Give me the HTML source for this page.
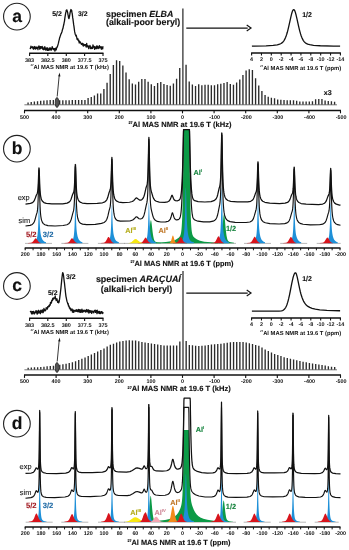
<!DOCTYPE html>
<html><head><meta charset="utf-8"><style>
html,body{margin:0;padding:0;background:#fff;}
svg{display:block;}
text{font-family:"Liberation Sans",Arial,sans-serif;text-rendering:geometricPrecision;}
</style></head><body>
<svg width="349" height="550" viewBox="0 0 349 550">
<rect width="349" height="550" fill="#fff"/>
<circle cx="16.9" cy="16.6" r="13.35" fill="none" stroke="#222" stroke-width="1.1"/>
<text x="17.2" y="21.5" font-size="17.5" font-weight="bold" text-anchor="middle" fill="#111" stroke="#111" stroke-width="0.12" style="" >a</text>
<text x="106" y="16.6" font-size="8.85" font-weight="bold" fill="#111" stroke="#111" stroke-width="0.12">specimen <tspan font-style="italic">ELBA</tspan></text>
<text x="106" y="24.8" font-size="8.85" font-weight="bold" fill="#111" stroke="#111" stroke-width="0.12">(alkali-poor beryl)</text>
<line x1="29.1" y1="53.3" x2="103.5" y2="53.3" stroke="#111" stroke-width="1.5"/>
<line x1="29.6" y1="53.3" x2="29.6" y2="55.9" stroke="#111" stroke-width="1.1"/>
<line x1="47.8" y1="53.3" x2="47.8" y2="55.9" stroke="#111" stroke-width="1.1"/>
<line x1="66.3" y1="53.3" x2="66.3" y2="55.9" stroke="#111" stroke-width="1.1"/>
<line x1="84.6" y1="53.3" x2="84.6" y2="55.9" stroke="#111" stroke-width="1.1"/>
<line x1="103" y1="53.3" x2="103" y2="55.9" stroke="#111" stroke-width="1.1"/>
<text x="29.6" y="62.2" font-size="5.5" font-weight="bold" text-anchor="middle" fill="#111" style="" >383</text>
<text x="47.8" y="62.2" font-size="5.5" font-weight="bold" text-anchor="middle" fill="#111" style="" >382.5</text>
<text x="66.3" y="62.2" font-size="5.5" font-weight="bold" text-anchor="middle" fill="#111" style="" >380</text>
<text x="84.6" y="62.2" font-size="5.5" font-weight="bold" text-anchor="middle" fill="#111" style="" >377.5</text>
<text x="103" y="62.2" font-size="5.5" font-weight="bold" text-anchor="middle" fill="#111" style="" >375</text>
<text x="30.4" y="68.6" font-size="5.77" font-weight="bold" text-anchor="start" fill="#111"><tspan font-size="2.88" dy="-2.6">27</tspan><tspan dy="2.6">Al MAS NMR at 19.6 T (kHz)</tspan></text>
<line x1="251.1" y1="52.9" x2="340.9" y2="52.9" stroke="#111" stroke-width="1.5"/>
<line x1="251.6" y1="52.9" x2="251.6" y2="55.5" stroke="#111" stroke-width="1.1"/>
<line x1="261.47" y1="52.9" x2="261.47" y2="55.5" stroke="#111" stroke-width="1.1"/>
<line x1="271.33" y1="52.9" x2="271.33" y2="55.5" stroke="#111" stroke-width="1.1"/>
<line x1="281.2" y1="52.9" x2="281.2" y2="55.5" stroke="#111" stroke-width="1.1"/>
<line x1="291.07" y1="52.9" x2="291.07" y2="55.5" stroke="#111" stroke-width="1.1"/>
<line x1="300.93" y1="52.9" x2="300.93" y2="55.5" stroke="#111" stroke-width="1.1"/>
<line x1="310.8" y1="52.9" x2="310.8" y2="55.5" stroke="#111" stroke-width="1.1"/>
<line x1="320.67" y1="52.9" x2="320.67" y2="55.5" stroke="#111" stroke-width="1.1"/>
<line x1="330.53" y1="52.9" x2="330.53" y2="55.5" stroke="#111" stroke-width="1.1"/>
<line x1="340.4" y1="52.9" x2="340.4" y2="55.5" stroke="#111" stroke-width="1.1"/>
<text x="251.6" y="61.2" font-size="5.4" font-weight="bold" text-anchor="middle" fill="#111" style="" >4</text>
<text x="261.47" y="61.2" font-size="5.4" font-weight="bold" text-anchor="middle" fill="#111" style="" >2</text>
<text x="271.33" y="61.2" font-size="5.4" font-weight="bold" text-anchor="middle" fill="#111" style="" >0</text>
<text x="281.2" y="61.2" font-size="5.4" font-weight="bold" text-anchor="middle" fill="#111" style="" >-2</text>
<text x="291.07" y="61.2" font-size="5.4" font-weight="bold" text-anchor="middle" fill="#111" style="" >-4</text>
<text x="300.93" y="61.2" font-size="5.4" font-weight="bold" text-anchor="middle" fill="#111" style="" >-6</text>
<text x="310.8" y="61.2" font-size="5.4" font-weight="bold" text-anchor="middle" fill="#111" style="" >-8</text>
<text x="320.67" y="61.2" font-size="5.4" font-weight="bold" text-anchor="middle" fill="#111" style="" >-10</text>
<text x="330.53" y="61.2" font-size="5.4" font-weight="bold" text-anchor="middle" fill="#111" style="" >-12</text>
<text x="340.4" y="61.2" font-size="5.4" font-weight="bold" text-anchor="middle" fill="#111" style="" >-14</text>
<text x="259.9" y="69.5" font-size="5.83" font-weight="bold" text-anchor="start" fill="#111"><tspan font-size="2.92" dy="-2.6">27</tspan><tspan dy="2.6">Al MAS NMR at 19.6 T (ppm)</tspan></text>
<path d="M251.9,46.14 L266.06,45.81 L273.14,45.37 L277.27,44.81 L279.63,44.19 L281.1,43.51 L282.28,42.65 L283.17,41.74 L284.05,40.52 L284.94,38.92 L285.53,37.6 L286.12,36.06 L286.71,34.3 L287.3,32.3 L287.89,30.09 L288.77,26.4 L290.84,17.04 L291.43,14.59 L291.72,13.48 L292.02,12.48 L292.31,11.6 L292.61,10.86 L292.9,10.28 L293.2,9.87 L293.49,9.65 L293.79,9.61 L294.08,9.76 L294.38,10.09 L294.67,10.61 L294.97,11.28 L295.26,12.11 L295.56,13.06 L296.15,15.29 L297.03,19.14 L298.51,25.87 L299.39,29.61 L299.98,31.87 L300.57,33.91 L301.16,35.73 L301.75,37.31 L302.34,38.67 L303.23,40.33 L304.11,41.6 L305,42.54 L306.18,43.43 L307.65,44.15 L309.72,44.73 L313.55,45.3 L320.34,45.77 L333.61,46.11 L340.1,46.19" fill="none" stroke="#111" stroke-width="1.3" stroke-linejoin="round"/>
<text x="302.2" y="16.6" font-size="7" font-weight="bold" text-anchor="start" fill="#111" stroke="#111" stroke-width="0.12" style="" >1/2</text>
<line x1="186.3" y1="28.1" x2="247.7" y2="28.1" stroke="#111" stroke-width="1.2"/>
<polyline points="246.7,31.1 251,28.1 246.7,25.1" fill="none" stroke="#111" stroke-width="1.2" stroke-linejoin="miter"/>
<line x1="24" y1="110.5" x2="341" y2="110.5" stroke="#111" stroke-width="1.5"/>
<line x1="24.5" y1="110.5" x2="24.5" y2="113.3" stroke="#111" stroke-width="1.1"/>
<line x1="56.1" y1="110.5" x2="56.1" y2="113.3" stroke="#111" stroke-width="1.1"/>
<line x1="87.7" y1="110.5" x2="87.7" y2="113.3" stroke="#111" stroke-width="1.1"/>
<line x1="119.3" y1="110.5" x2="119.3" y2="113.3" stroke="#111" stroke-width="1.1"/>
<line x1="150.9" y1="110.5" x2="150.9" y2="113.3" stroke="#111" stroke-width="1.1"/>
<line x1="182.5" y1="110.5" x2="182.5" y2="113.3" stroke="#111" stroke-width="1.1"/>
<line x1="214.1" y1="110.5" x2="214.1" y2="113.3" stroke="#111" stroke-width="1.1"/>
<line x1="245.7" y1="110.5" x2="245.7" y2="113.3" stroke="#111" stroke-width="1.1"/>
<line x1="277.3" y1="110.5" x2="277.3" y2="113.3" stroke="#111" stroke-width="1.1"/>
<line x1="308.9" y1="110.5" x2="308.9" y2="113.3" stroke="#111" stroke-width="1.1"/>
<line x1="340.5" y1="110.5" x2="340.5" y2="113.3" stroke="#111" stroke-width="1.1"/>
<text x="24.5" y="119.4" font-size="5.4" font-weight="bold" text-anchor="middle" fill="#111" style="" >500</text>
<text x="56.1" y="119.4" font-size="5.4" font-weight="bold" text-anchor="middle" fill="#111" style="" >400</text>
<text x="87.7" y="119.4" font-size="5.4" font-weight="bold" text-anchor="middle" fill="#111" style="" >300</text>
<text x="119.3" y="119.4" font-size="5.4" font-weight="bold" text-anchor="middle" fill="#111" style="" >200</text>
<text x="150.9" y="119.4" font-size="5.4" font-weight="bold" text-anchor="middle" fill="#111" style="" >100</text>
<text x="182.5" y="119.4" font-size="5.4" font-weight="bold" text-anchor="middle" fill="#111" style="" >0</text>
<text x="214.7" y="119.4" font-size="5.4" font-weight="bold" text-anchor="middle" fill="#111" style="" >-100</text>
<text x="246.3" y="119.4" font-size="5.4" font-weight="bold" text-anchor="middle" fill="#111" style="" >-200</text>
<text x="277.9" y="119.4" font-size="5.4" font-weight="bold" text-anchor="middle" fill="#111" style="" >-300</text>
<text x="309.5" y="119.4" font-size="5.4" font-weight="bold" text-anchor="middle" fill="#111" style="" >-400</text>
<text x="341.1" y="119.4" font-size="5.4" font-weight="bold" text-anchor="middle" fill="#111" style="" >-500</text>
<text x="128.4" y="126.6" font-size="7.58" font-weight="bold" text-anchor="start" fill="#111" stroke="#111" stroke-width="0.12"><tspan font-size="3.79" dy="-2.6">27</tspan><tspan dy="2.6">Al MAS NMR at 19.6 T (kHz)</tspan></text>
<circle cx="16.9" cy="286" r="13.35" fill="none" stroke="#222" stroke-width="1.1"/>
<text x="17.2" y="290.9" font-size="17.5" font-weight="bold" text-anchor="middle" fill="#111" stroke="#111" stroke-width="0.12" style="" >c</text>
<text x="95.9" y="282.3" font-size="8.95" font-weight="bold" fill="#111" stroke="#111" stroke-width="0.12">specimen <tspan font-style="italic">ARAÇUAÍ</tspan></text>
<text x="100.8" y="291.5" font-size="8.95" font-weight="bold" fill="#111" stroke="#111" stroke-width="0.12">(alkali-rich beryl)</text>
<line x1="29.1" y1="318.3" x2="103.5" y2="318.3" stroke="#111" stroke-width="1.5"/>
<line x1="29.6" y1="318.3" x2="29.6" y2="320.9" stroke="#111" stroke-width="1.1"/>
<line x1="47.8" y1="318.3" x2="47.8" y2="320.9" stroke="#111" stroke-width="1.1"/>
<line x1="66.3" y1="318.3" x2="66.3" y2="320.9" stroke="#111" stroke-width="1.1"/>
<line x1="84.6" y1="318.3" x2="84.6" y2="320.9" stroke="#111" stroke-width="1.1"/>
<line x1="103" y1="318.3" x2="103" y2="320.9" stroke="#111" stroke-width="1.1"/>
<text x="29.6" y="327.2" font-size="5.5" font-weight="bold" text-anchor="middle" fill="#111" style="" >383</text>
<text x="47.8" y="327.2" font-size="5.5" font-weight="bold" text-anchor="middle" fill="#111" style="" >382.5</text>
<text x="66.3" y="327.2" font-size="5.5" font-weight="bold" text-anchor="middle" fill="#111" style="" >380</text>
<text x="84.6" y="327.2" font-size="5.5" font-weight="bold" text-anchor="middle" fill="#111" style="" >377.5</text>
<text x="103" y="327.2" font-size="5.5" font-weight="bold" text-anchor="middle" fill="#111" style="" >375</text>
<text x="30.4" y="333.6" font-size="5.77" font-weight="bold" text-anchor="start" fill="#111"><tspan font-size="2.88" dy="-2.6">27</tspan><tspan dy="2.6">Al MAS NMR at 19.6 T (kHz)</tspan></text>
<line x1="251.1" y1="317.9" x2="340.9" y2="317.9" stroke="#111" stroke-width="1.5"/>
<line x1="251.6" y1="317.9" x2="251.6" y2="320.5" stroke="#111" stroke-width="1.1"/>
<line x1="261.47" y1="317.9" x2="261.47" y2="320.5" stroke="#111" stroke-width="1.1"/>
<line x1="271.33" y1="317.9" x2="271.33" y2="320.5" stroke="#111" stroke-width="1.1"/>
<line x1="281.2" y1="317.9" x2="281.2" y2="320.5" stroke="#111" stroke-width="1.1"/>
<line x1="291.07" y1="317.9" x2="291.07" y2="320.5" stroke="#111" stroke-width="1.1"/>
<line x1="300.93" y1="317.9" x2="300.93" y2="320.5" stroke="#111" stroke-width="1.1"/>
<line x1="310.8" y1="317.9" x2="310.8" y2="320.5" stroke="#111" stroke-width="1.1"/>
<line x1="320.67" y1="317.9" x2="320.67" y2="320.5" stroke="#111" stroke-width="1.1"/>
<line x1="330.53" y1="317.9" x2="330.53" y2="320.5" stroke="#111" stroke-width="1.1"/>
<line x1="340.4" y1="317.9" x2="340.4" y2="320.5" stroke="#111" stroke-width="1.1"/>
<text x="251.6" y="326.2" font-size="5.4" font-weight="bold" text-anchor="middle" fill="#111" style="" >4</text>
<text x="261.47" y="326.2" font-size="5.4" font-weight="bold" text-anchor="middle" fill="#111" style="" >2</text>
<text x="271.33" y="326.2" font-size="5.4" font-weight="bold" text-anchor="middle" fill="#111" style="" >0</text>
<text x="281.2" y="326.2" font-size="5.4" font-weight="bold" text-anchor="middle" fill="#111" style="" >-2</text>
<text x="291.07" y="326.2" font-size="5.4" font-weight="bold" text-anchor="middle" fill="#111" style="" >-4</text>
<text x="300.93" y="326.2" font-size="5.4" font-weight="bold" text-anchor="middle" fill="#111" style="" >-6</text>
<text x="310.8" y="326.2" font-size="5.4" font-weight="bold" text-anchor="middle" fill="#111" style="" >-8</text>
<text x="320.67" y="326.2" font-size="5.4" font-weight="bold" text-anchor="middle" fill="#111" style="" >-10</text>
<text x="330.53" y="326.2" font-size="5.4" font-weight="bold" text-anchor="middle" fill="#111" style="" >-12</text>
<text x="340.4" y="326.2" font-size="5.4" font-weight="bold" text-anchor="middle" fill="#111" style="" >-14</text>
<text x="259.9" y="334.5" font-size="5.83" font-weight="bold" text-anchor="start" fill="#111"><tspan font-size="2.92" dy="-2.6">27</tspan><tspan dy="2.6">Al MAS NMR at 19.6 T (ppm)</tspan></text>
<path d="M251.9,311.2 L279.04,311.15 L281.4,310.9 L282.58,310.54 L283.46,310.06 L284.35,309.31 L285.23,308.2 L285.82,307.21 L286.41,305.97 L287,304.46 L287.59,302.67 L288.18,300.58 L288.77,298.21 L289.36,295.58 L290.25,291.25 L291.72,283.69 L292.31,280.85 L292.9,278.28 L293.2,277.13 L293.49,276.1 L293.79,275.19 L294.08,274.41 L294.38,273.78 L294.67,273.3 L294.97,272.98 L295.26,272.82 L295.56,272.84 L295.85,273.1 L296.15,273.61 L296.44,274.35 L296.74,275.29 L297.03,276.4 L297.33,277.65 L297.92,280.41 L299.1,286.23 L299.69,288.98 L300.28,291.5 L300.87,293.78 L301.46,295.81 L302.05,297.58 L302.64,299.13 L303.52,301.09 L304.41,302.65 L305.29,303.91 L306.47,305.22 L307.95,306.41 L309.72,307.43 L312.08,308.35 L315.32,309.15 L319.75,309.8 L326.83,310.35 L339.22,310.76 L340.1,310.77" fill="none" stroke="#111" stroke-width="1.3" stroke-linejoin="round"/>
<text x="302.2" y="281" font-size="7" font-weight="bold" text-anchor="start" fill="#111" stroke="#111" stroke-width="0.12" style="" >1/2</text>
<line x1="186.3" y1="293.1" x2="247.7" y2="293.1" stroke="#111" stroke-width="1.2"/>
<polyline points="246.7,296.1 251,293.1 246.7,290.1" fill="none" stroke="#111" stroke-width="1.2" stroke-linejoin="miter"/>
<line x1="24" y1="375.1" x2="341" y2="375.1" stroke="#111" stroke-width="1.5"/>
<line x1="24.5" y1="375.1" x2="24.5" y2="377.9" stroke="#111" stroke-width="1.1"/>
<line x1="56.1" y1="375.1" x2="56.1" y2="377.9" stroke="#111" stroke-width="1.1"/>
<line x1="87.7" y1="375.1" x2="87.7" y2="377.9" stroke="#111" stroke-width="1.1"/>
<line x1="119.3" y1="375.1" x2="119.3" y2="377.9" stroke="#111" stroke-width="1.1"/>
<line x1="150.9" y1="375.1" x2="150.9" y2="377.9" stroke="#111" stroke-width="1.1"/>
<line x1="182.5" y1="375.1" x2="182.5" y2="377.9" stroke="#111" stroke-width="1.1"/>
<line x1="214.1" y1="375.1" x2="214.1" y2="377.9" stroke="#111" stroke-width="1.1"/>
<line x1="245.7" y1="375.1" x2="245.7" y2="377.9" stroke="#111" stroke-width="1.1"/>
<line x1="277.3" y1="375.1" x2="277.3" y2="377.9" stroke="#111" stroke-width="1.1"/>
<line x1="308.9" y1="375.1" x2="308.9" y2="377.9" stroke="#111" stroke-width="1.1"/>
<line x1="340.5" y1="375.1" x2="340.5" y2="377.9" stroke="#111" stroke-width="1.1"/>
<text x="24.5" y="382.9" font-size="5.4" font-weight="bold" text-anchor="middle" fill="#111" style="" >500</text>
<text x="56.1" y="382.9" font-size="5.4" font-weight="bold" text-anchor="middle" fill="#111" style="" >400</text>
<text x="87.7" y="382.9" font-size="5.4" font-weight="bold" text-anchor="middle" fill="#111" style="" >300</text>
<text x="119.3" y="382.9" font-size="5.4" font-weight="bold" text-anchor="middle" fill="#111" style="" >200</text>
<text x="150.9" y="382.9" font-size="5.4" font-weight="bold" text-anchor="middle" fill="#111" style="" >100</text>
<text x="182.5" y="382.9" font-size="5.4" font-weight="bold" text-anchor="middle" fill="#111" style="" >0</text>
<text x="214.7" y="382.9" font-size="5.4" font-weight="bold" text-anchor="middle" fill="#111" style="" >-100</text>
<text x="246.3" y="382.9" font-size="5.4" font-weight="bold" text-anchor="middle" fill="#111" style="" >-200</text>
<text x="277.9" y="382.9" font-size="5.4" font-weight="bold" text-anchor="middle" fill="#111" style="" >-300</text>
<text x="309.5" y="382.9" font-size="5.4" font-weight="bold" text-anchor="middle" fill="#111" style="" >-400</text>
<text x="341.1" y="382.9" font-size="5.4" font-weight="bold" text-anchor="middle" fill="#111" style="" >-500</text>
<text x="127.6" y="391.2" font-size="7.58" font-weight="bold" text-anchor="start" fill="#111" stroke="#111" stroke-width="0.12"><tspan font-size="3.79" dy="-2.6">27</tspan><tspan dy="2.6">Al MAS NMR at 19.6 T (kHz)</tspan></text>
<path d="M28.06,104.8V102.47M31.22,104.8V102.03M34.38,104.8V101.59M37.54,104.8V101.14M40.7,104.8V100.74M43.86,104.8V100.49M47.02,104.8V100.24M50.18,104.8V100M53.34,104.8V100.07M56.5,104.8V100.13M59.66,104.8V100.19M62.82,104.8V100.18M65.98,104.8V100.15M69.14,104.8V100.13M72.3,104.8V100.1M75.46,104.8V100.08M78.62,104.8V100.05M81.78,104.8V100.03M84.94,104.8V100M88.1,104.8V97.88M91.26,104.8V97.08M94.42,104.8V95.49M97.58,104.8V93.59M100.74,104.8V93.51M103.9,104.8V89.09M107.06,104.8V82.8M110.22,104.8V74.09M113.38,104.8V65.01M116.54,104.8V60.2M119.7,104.8V60.99M122.86,104.8V65.43M126.02,104.8V72.42M129.18,104.8V79.29M132.34,104.8V83.47M135.5,104.8V84.53M138.66,104.8V81.65M141.82,104.8V78.97M144.98,104.8V78.9M148.14,104.8V81.66M151.3,104.8V84.24M154.46,104.8V86.12M157.62,104.8V83.09M160.78,104.8V81.94M163.94,104.8V83.99M167.1,104.8V85.07M170.26,104.8V85.77M173.42,104.8V83.46M176.58,104.8V78.78M179.74,104.8V68.11M186.06,104.8V64.67M189.22,104.8V81.42M192.38,104.8V84.58M195.54,104.8V85.98M198.7,104.8V84.16M201.86,104.8V85.25M205.02,104.8V84.83M208.18,104.8V84.8M211.34,104.8V85.29M214.5,104.8V85.27M217.66,104.8V84.34M220.82,104.8V83.7M223.98,104.8V83M227.14,104.8V82.09M230.3,104.8V84.12M233.46,104.8V84.76M236.62,104.8V82.48M239.78,104.8V79.54M242.94,104.8V74.99M246.1,104.8V70.47M249.26,104.8V69.21M252.42,104.8V69.89M255.58,104.8V78.31M258.74,104.8V85.45M261.9,104.8V91.05M265.06,104.8V94.9M268.22,104.8V96.86M271.38,104.8V97.73M274.54,104.8V98.35M277.7,104.8V99.42M280.86,104.8V99.72M284.02,104.8V100.1M287.18,104.8V100.17M290.34,104.8V100.24M293.5,104.8V100.33M296.66,104.8V100.84M299.82,104.8V101.56M302.98,104.8V101.6M306.14,104.8V101.6M309.3,104.8V101.6M312.46,104.8V101.28M315.62,104.8V99.2M318.78,104.8V99.1M321.94,104.8V99M325.1,104.8V100.51M328.26,104.8V100.96M331.42,104.8V101.34M334.58,104.8V101.66" stroke="#2b2b2b" stroke-width="1.35" fill="none"/>
<line x1="24.4" y1="104.8" x2="337" y2="104.8" stroke="#555" stroke-width="0.8"/>
<line x1="182.9" y1="104.8" x2="182.9" y2="8.6" stroke="#111" stroke-width="1.1"/>
<text x="323.8" y="94.6" font-size="7.1" font-weight="bold" text-anchor="start" fill="#111" stroke="#111" stroke-width="0.12" style="" >x3</text>
<path d="M28.16,369.8V367.65M31.32,369.8V367.51M34.48,369.8V367.36M37.64,369.8V367.21M40.8,369.8V367.01M43.96,369.8V366.68M47.12,369.8V366.34M50.28,369.8V366M53.44,369.8V365.67M56.6,369.8V365.24M59.76,369.8V364.74M62.92,369.8V364.23M66.08,369.8V363.65M69.24,369.8V362.92M72.4,369.8V362.2M75.56,369.8V361.37M78.72,369.8V360.07M81.88,369.8V358.78M85.04,369.8V357.48M88.2,369.8V356.03M91.36,369.8V354.57M94.52,369.8V353.12M97.68,369.8V351.61M100.84,369.8V350.06M104,369.8V348.42M107.16,369.8V346.6M110.32,369.8V344.78M113.48,369.8V343.65M116.64,369.8V342.58M119.8,369.8V341.56M122.96,369.8V340.91M126.12,369.8V340.46M129.28,369.8V340.33M132.44,369.8V340.4M135.6,369.8V340.62M138.76,369.8V341.25M141.92,369.8V341.92M145.08,369.8V342.61M148.24,369.8V343.05M151.4,369.8V343.55M154.56,369.8V344.12M157.72,369.8V344.58M160.88,369.8V345.02M164.04,369.8V345.47M167.2,369.8V345.6M170.36,369.8V345.6M173.52,369.8V345.6M176.68,369.8V345.6M179.84,369.8V341.38M186.16,369.8V341.08M189.32,369.8V344.94M192.48,369.8V345.31M195.64,369.8V345.65M198.8,369.8V345.9M201.96,369.8V345.84M205.12,369.8V345.58M208.28,369.8V345.01M211.44,369.8V344.56M214.6,369.8V344.24M217.76,369.8V343.98M220.92,369.8V343.67M224.08,369.8V343.23M227.24,369.8V342.79M230.4,369.8V342.36M233.56,369.8V342.04M236.72,369.8V341.9M239.88,369.8V341.9M243.04,369.8V342.02M246.2,369.8V342.39M249.36,369.8V343.15M252.52,369.8V344.01M255.68,369.8V344.88M258.84,369.8V345.7M262,369.8V347.4M265.16,369.8V349.57M268.32,369.8V351.03M271.48,369.8V352.48M274.64,369.8V353.93M277.8,369.8V355M280.96,369.8V356.05M284.12,369.8V357.18M287.28,369.8V358.05M290.44,369.8V358.8M293.6,369.8V359.49M296.76,369.8V360.19M299.92,369.8V360.88M303.08,369.8V361.64M306.24,369.8V362.37M309.4,369.8V363.07M312.56,369.8V363.56M315.72,369.8V364.03M318.88,369.8V364.6M322.04,369.8V365.09M325.2,369.8V365.55M328.36,369.8V366.31M331.52,369.8V366.8M334.68,369.8V367.01" stroke="#2b2b2b" stroke-width="1.35" fill="none"/>
<line x1="24.4" y1="369.8" x2="337" y2="369.8" stroke="#555" stroke-width="0.8"/>
<line x1="183" y1="369.8" x2="183" y2="271" stroke="#111" stroke-width="1.1"/>
<ellipse cx="57.0" cy="102.5" rx="1.8" ry="5.0" fill="#555" stroke="#222" stroke-width="0.7"/>
<line x1="57.2" y1="96.5" x2="59.2" y2="75.5" stroke="#222" stroke-width="0.9"/>
<polygon points="59.6,72.6 58.2,76.2 60.4,76.4" fill="#111"/>
<ellipse cx="57.0" cy="367.5" rx="1.8" ry="5.0" fill="#555" stroke="#222" stroke-width="0.7"/>
<line x1="57.2" y1="361.5" x2="59.2" y2="340.5" stroke="#222" stroke-width="0.9"/>
<polygon points="59.6,337.6 58.2,341.2 60.4,341.4" fill="#111"/>
<path d="M30.2,49.13 L30.45,47.99 L30.7,47.71 L30.95,46.05 L31.2,47.42 L31.45,47.36 L31.7,47.61 L31.95,47.16 L32.2,47.66 L32.45,47.31 L32.7,46.61 L32.95,48.49 L33.2,48.5 L33.45,49.22 L33.7,47.82 L33.95,47.45 L34.2,47.34 L34.45,46.5 L34.7,48.66 L34.95,46.91 L35.2,46.85 L35.45,47.69 L35.7,49.14 L36.2,47.04 L36.45,47.31 L36.7,48.46 L37.2,47.3 L37.45,47.77 L37.7,48.62 L37.95,49.68 L38.2,46.95 L38.45,47.49 L38.7,47.35 L38.95,45.99 L39.2,47.27 L39.45,47.2 L39.7,49.04 L40.2,46.74 L40.45,48.69 L40.7,47.86 L40.95,46.7 L41.2,47.7 L41.45,47.73 L41.7,47.51 L41.95,48.3 L42.2,46.39 L42.45,48.09 L42.7,49.2 L42.95,49.09 L43.2,49.33 L43.45,49.36 L43.7,49.7 L43.95,47.5 L44.2,49.2 L44.45,46.92 L44.7,48.01 L44.95,46.92 L45.2,49.46 L45.45,49.72 L45.7,48.45 L45.95,50.14 L46.2,48.08 L46.45,48.81 L46.7,48.83 L46.95,47.82 L47.45,50.42 L47.7,47.92 L47.95,49.58 L48.2,48.71 L48.45,50.36 L48.7,49.29 L49.2,49.47 L49.45,49.16 L49.7,47.79 L49.95,50.17 L50.2,47.85 L50.45,49.23 L50.7,49.56 L50.95,48.34 L51.45,50.08 L51.7,49.08 L51.95,48.36 L52.2,46.65 L52.45,48.32 L52.7,48.66 L52.95,48.74 L53.2,48.38 L53.45,49.53 L53.7,48.73 L53.95,49.14 L54.2,49.83 L54.45,48.54 L54.7,49.01 L54.95,51.09 L55.2,49.95 L55.45,48.04 L55.7,49 L56.2,49.87 L56.7,47.71 L56.95,47 L57.2,47.18 L57.95,44.86 L58.2,43.88 L58.45,43.14 L58.7,41.69 L59.2,39.87 L59.7,37.46 L59.95,37.2 L60.2,36.01 L60.45,35.65 L60.95,33.87 L61.2,33.74 L61.95,31.72 L62.45,29.69 L62.7,28.85 L62.95,28.38 L63.45,25.77 L63.7,25.02 L64.2,22.46 L64.45,21.36 L64.95,17.33 L65.7,12.9 L65.95,11.93 L66.2,10.44 L66.7,9.88 L66.95,10.06 L67.7,12.72 L67.95,14.59 L68.2,15.51 L68.45,17.23 L68.7,18.24 L68.95,18.62 L69.45,16.68 L69.7,15.17 L69.95,13.98 L70.2,12.21 L70.95,9.53 L71.2,10.36 L71.45,10.07 L71.7,10.6 L71.95,12.58 L72.2,13.51 L72.7,17.65 L72.95,19.18 L73.7,24.94 L73.95,26.42 L74.45,30.22 L74.7,31.91 L75.2,34.16 L75.7,35.3 L75.95,36.15 L76.2,35.12 L76.45,36.62 L76.7,37.12 L76.95,38.75 L77.2,39.57 L77.45,38.98 L77.7,39.32 L77.95,38.8 L78.2,40.27 L78.7,41.24 L78.95,40.44 L79.2,43.04 L79.45,42.61 L79.7,41.76 L79.95,41.63 L80.2,42.05 L80.45,42.69 L80.7,42.78 L80.95,43.41 L81.2,43.82 L81.45,44.48 L81.7,44.42 L81.95,43.48 L82.2,44.03 L82.45,43.5 L82.7,43.45 L82.95,45.7 L83.2,43.81 L83.45,46.02 L83.7,44.15 L84.2,45.62 L84.45,44.82 L84.7,45.23 L84.95,44.78 L85.2,44.67 L85.45,45.02 L85.7,44.7 L85.95,46.73 L86.2,45.28 L86.45,46.98 L86.7,43.32 L86.95,45.7 L87.2,46.25 L87.45,45.61 L87.7,46.88 L87.95,46.58 L88.2,45.89 L88.45,46.58 L88.7,48.68 L88.95,46.57 L89.2,46.67 L89.45,46.08 L89.7,46.61 L89.95,45.43 L90.2,46.39 L90.45,48.68 L90.7,47.53 L90.95,47.21 L91.2,47.63 L91.45,48.33 L91.7,47.26 L91.95,48.55 L92.45,47 L92.7,48.35 L92.95,44.92 L93.2,46.47 L93.45,47.22 L93.7,46.25 L93.95,46.93 L94.2,46.55 L94.45,46.57 L94.7,49.46 L94.95,47.71 L95.2,47.15 L95.45,48.32 L95.7,47.01 L95.95,47.96 L96.2,47.51 L96.45,48.6 L96.7,46.01 L96.95,47.88 L97.2,47.33 L97.45,46.25 L97.7,48.14 L97.95,46.5 L98.2,48.62 L98.45,47.68 L98.7,47.84 L98.95,47.32 L99.2,48.02 L99.45,45.67 L99.7,47.32 L99.95,46.73 L100.2,47.51 L100.45,47.23 L100.7,47.8 L100.95,46.56 L101.2,48.84 L101.45,49.25 L101.7,47.11 L102.2,47.53 L102.45,48.37 L102.7,48.91 L102.95,46.27" fill="none" stroke="#111" stroke-width="1.3" stroke-linejoin="round"/>
<text x="52.2" y="15.8" font-size="6.9" font-weight="bold" text-anchor="start" fill="#111" stroke="#111" stroke-width="0.12" style="" >5/2</text>
<text x="78" y="15.8" font-size="6.9" font-weight="bold" text-anchor="start" fill="#111" stroke="#111" stroke-width="0.12" style="" >3/2</text>
<path d="M30.2,312.08 L30.45,311.7 L30.7,311.65 L30.95,311.21 L31.2,312.91 L31.45,311.61 L31.7,313.88 L31.95,313.37 L32.2,311.72 L32.45,311.72 L32.7,312.08 L32.95,313.79 L33.2,311.88 L33.45,311.33 L33.7,312.56 L33.95,312.92 L34.2,312.04 L34.45,313.98 L34.7,312.8 L34.95,312.98 L35.2,311.86 L35.45,312.53 L35.7,312.41 L35.95,310.58 L36.2,312.73 L36.45,310.93 L36.7,312.41 L36.95,311.15 L37.2,314.09 L37.45,312.62 L37.7,313.05 L37.95,313.07 L38.2,311.14 L38.45,310.29 L38.7,311.93 L38.95,312.94 L39.2,312.23 L39.45,312.79 L39.7,312.89 L39.95,310.8 L40.45,313.68 L40.7,311.5 L40.95,310.23 L41.2,311.73 L41.45,311.5 L41.7,312.22 L41.95,311.07 L42.2,311.84 L42.45,309.79 L42.7,312.28 L42.95,312.77 L43.2,312.38 L43.45,309.84 L43.7,311.25 L43.95,308.3 L44.2,310.93 L44.45,310.49 L44.7,309.55 L44.95,310.55 L45.2,310.22 L45.45,310.75 L45.7,309.88 L45.95,309.76 L46.2,307.65 L46.95,308.65 L47.2,308.08 L47.45,309.05 L47.7,306.73 L48.2,307.06 L48.45,306.33 L48.7,306.62 L48.95,305.36 L49.2,306.69 L49.45,304.83 L49.7,305.67 L49.95,304.31 L50.2,305.22 L50.45,302.38 L50.7,303.62 L50.95,302.43 L51.2,302.61 L51.45,303.04 L51.7,300.67 L51.95,300.12 L52.2,300 L52.45,300.67 L52.7,298.46 L52.95,299.76 L53.2,298.22 L53.45,298.02 L53.95,298.86 L54.2,297.85 L54.45,297.83 L54.7,298.14 L54.95,297.94 L55.2,295.96 L55.45,297.98 L55.7,298.55 L56.2,300.49 L56.45,299.51 L56.7,299.29 L56.95,298.8 L57.2,300.19 L57.7,302.25 L57.95,300.92 L58.2,302.13 L58.7,302.79 L58.95,302.24 L59.2,301.36 L59.45,299.99 L59.7,298.25 L59.95,296.17 L60.2,294.37 L60.95,287.93 L61.2,285.21 L61.45,282.87 L61.7,280.18 L61.95,277.81 L62.45,273.94 L62.7,272.69 L62.95,273.05 L63.2,273.82 L63.45,275.09 L63.7,276.97 L64.2,281.31 L64.45,282.93 L64.95,287.76 L65.2,289.64 L65.45,292.2 L65.7,294.41 L65.95,296.35 L66.2,297.49 L66.7,300.09 L67.2,301.98 L67.45,302.4 L67.7,303.66 L67.95,304.18 L68.2,303.55 L68.45,305.9 L68.7,305.42 L68.95,306.61 L69.2,306.51 L69.45,308.05 L69.7,307.68 L69.95,307.65 L70.2,309.14 L70.7,308.79 L70.95,310.56 L71.2,309.39 L71.45,309.38 L71.7,309.61 L71.95,308.96 L72.2,309.87 L72.45,312.06 L72.7,309.84 L72.95,310.75 L73.2,309.93 L73.45,310.47 L73.7,312.37 L73.95,311.89 L74.2,310.62 L74.45,311.13 L74.7,310.4 L75.45,310.25 L75.7,311.27 L75.95,311.47 L76.2,311.35 L76.45,310.76 L76.7,309.72 L76.95,310.8 L77.2,310.05 L77.45,311.57 L77.7,311.29 L77.95,311.45 L78.2,310.53 L78.45,309.29 L78.7,311.65 L78.95,311.88 L79.2,309.59 L79.45,310.97 L79.7,311.87 L79.95,309.95 L80.2,312.38 L80.45,310.58 L80.7,309.97 L80.95,312.06 L81.45,310.35 L81.7,311.66 L81.95,309.26 L82.2,312.47 L82.45,310.24 L82.7,311.18 L82.95,310.61 L83.2,311.32 L83.45,311.71 L83.7,310.27 L83.95,311.64 L84.2,310.73 L84.45,310.4 L84.7,310.8 L84.95,310.15 L85.2,310.34 L85.45,311.84 L85.7,310.93 L85.95,312.05 L86.2,311.46 L86.45,310.24 L86.7,309.52 L86.95,310.57 L87.2,311.4 L87.45,311.2 L87.7,310.51 L87.95,312.1 L88.2,309.77 L88.45,310.21 L88.7,311.4 L88.95,313.18 L89.2,311.69 L89.45,310.5 L89.7,311.88 L90.2,312.21 L90.45,311.09 L90.7,310.78 L90.95,311.58 L91.2,311.85 L91.45,312.87 L91.7,313.31 L91.95,310.93 L92.2,311.13 L92.45,311.54 L92.7,311.4 L92.95,312.05 L93.45,311.9 L93.7,312.84 L93.95,311.58 L94.2,310.84 L94.45,310.43 L94.7,310.9 L94.95,310.91 L95.2,310.23 L95.45,312.42 L96.2,311.19 L96.45,310.63 L96.7,311.23 L96.95,313.61 L97.2,310.19 L97.45,312.22 L97.7,312.76 L98.2,311.92 L98.45,312.87 L98.7,311.31 L98.95,312.75 L99.2,313.53 L99.45,311.46 L99.7,311.68 L100.2,313.28 L100.45,313.6 L100.7,313.07 L100.95,311.96 L101.2,311.61 L101.45,312.79 L101.7,312.96 L101.95,311.71 L102.2,312.73 L102.45,312.99 L102.7,313.62 L102.95,311.91" fill="none" stroke="#111" stroke-width="1.3" stroke-linejoin="round"/>
<text x="48" y="295.4" font-size="6.9" font-weight="bold" text-anchor="start" fill="#111" stroke="#111" stroke-width="0.12" style="" >5/2</text>
<text x="66" y="278.9" font-size="6.9" font-weight="bold" text-anchor="start" fill="#111" stroke="#111" stroke-width="0.12" style="" >3/2</text>
<circle cx="16.9" cy="148.7" r="13.35" fill="none" stroke="#222" stroke-width="1.1"/>
<text x="17.2" y="153.6" font-size="17.5" font-weight="bold" text-anchor="middle" fill="#111" stroke="#111" stroke-width="0.12" style="" >b</text>
<line x1="25" y1="243.4" x2="52" y2="243.4" stroke="#888" stroke-width="0.6"/>
<line x1="61.4" y1="243.4" x2="88.4" y2="243.4" stroke="#888" stroke-width="0.6"/>
<line x1="97.9" y1="243.4" x2="124.9" y2="243.4" stroke="#888" stroke-width="0.6"/>
<line x1="124" y1="243.4" x2="236" y2="243.4" stroke="#888" stroke-width="0.6"/>
<line x1="244" y1="243.4" x2="271" y2="243.4" stroke="#888" stroke-width="0.6"/>
<line x1="280.2" y1="243.4" x2="307.2" y2="243.4" stroke="#888" stroke-width="0.6"/>
<line x1="316.7" y1="243.4" x2="340.7" y2="243.4" stroke="#888" stroke-width="0.6"/>
<path d="M143,243.2 L143,242.69 L145.5,242.15 L146.6,241.51 L147.2,240.76 L147.7,239.68 L148.1,238.35 L148.5,236.47 L148.9,233.97 L149.3,230.88 L150.1,223.92 L150.4,221.78 L150.6,220.79 L150.8,220.27 L151,220.27 L151.2,220.79 L151.4,221.78 L151.7,223.92 L152.6,231.7 L153,234.65 L153.4,237 L153.8,238.73 L154.2,239.94 L154.7,240.92 L155.5,241.75 L157,242.37 L160.6,242.86 L161,242.88 L161,243.2 Z" fill="#0b9a46" stroke="none"/>
<path d="M215,243.2 L215,242.7 L217.9,242.15 L219.3,241.45 L220,240.67 L220.5,239.66 L220.9,238.4 L221.2,237.08 L221.5,235.38 L221.8,233.24 L222.1,230.65 L222.5,226.59 L223.2,218.89 L223.4,217.01 L223.6,215.51 L223.8,214.54 L223.9,214.28 L224,214.2 L224.1,214.28 L224.3,214.95 L224.5,216.2 L224.7,217.91 L225,221.02 L225.6,227.66 L225.9,230.65 L226.2,233.24 L226.5,235.38 L226.8,237.08 L227.2,238.76 L227.6,239.91 L228.2,240.95 L229.1,241.72 L230.9,242.37 L234,242.79 L234,243.2 Z" fill="#0b9a46" stroke="none"/>
<path d="M156,243.2 L156,242.64 L165.8,242.05 L171.2,241.22 L174.7,240.16 L177.2,238.86 L179,237.42 L179.9,236.31 L180.4,235.31 L180.8,234.01 L181.1,232.49 L181.3,231.08 L181.5,229.24 L181.6,228.11 L181.7,226.82 L181.8,225.35 L181.9,223.68 L182,221.78 L182.1,219.63 L182.2,217.21 L182.3,214.47 L182.4,211.41 L182.5,207.97 L182.6,204.15 L182.7,199.9 L182.8,195.19 L182.9,190 L183,184.29 L183.1,178.05 L183.2,171.24 L183.3,163.85 L183.4,155.87 L183.5,147.27 L183.6,138.06 L183.7,130.1 L189.3,130.1 L189.4,137.74 L189.5,146.95 L189.6,155.55 L189.7,163.53 L189.8,170.92 L189.9,177.72 L190,183.97 L190.1,189.67 L190.2,194.86 L190.3,199.57 L190.4,203.83 L190.5,207.66 L190.6,211.09 L190.7,214.16 L190.8,216.89 L190.9,219.32 L191,221.48 L191.1,223.38 L191.2,225.05 L191.3,226.52 L191.4,227.81 L191.6,229.94 L191.8,231.56 L192.1,233.3 L192.4,234.49 L192.8,235.53 L193.5,236.66 L194.9,238.05 L197.1,239.51 L200,240.69 L204.2,241.64 L211.1,242.35 L218,242.67 L218,243.2 Z" fill="#0b9a46" stroke="none"/>
<path d="M36,243.2 L36,240.46 L36.5,239.51 L36.9,238.33 L37.2,237.02 L37.4,235.82 L37.6,234.23 L37.7,233.24 L37.8,232.09 L37.9,230.74 L38,229.15 L38.1,227.28 L38.2,225.08 L38.3,222.53 L38.4,219.59 L38.5,216.31 L38.7,209.31 L38.8,206.25 L38.9,204.08 L39,203.23 L39.1,203.86 L39.2,205.82 L39.3,208.68 L39.5,215.27 L39.6,218.37 L39.7,221.12 L39.8,223.51 L39.9,225.55 L40,227.28 L40.1,228.74 L40.2,229.98 L40.4,231.96 L40.6,233.45 L40.9,235.13 L41.3,236.75 L41.8,238.24 L42.5,239.7 L43.4,240.87 L44.6,241.75 L46,242.28 L46,243.2 Z" fill="#1e90d8" stroke="none"/>
<path d="M72.4,243.2 L72.4,240.41 L72.9,239.44 L73.3,238.23 L73.6,236.89 L73.8,235.66 L74,234.03 L74.1,233.02 L74.2,231.83 L74.3,230.45 L74.4,228.82 L74.5,226.9 L74.6,224.65 L74.7,222.03 L74.8,219.01 L74.9,215.65 L75.1,208.47 L75.2,205.32 L75.3,203.1 L75.4,202.23 L75.5,202.88 L75.6,204.9 L75.7,207.83 L75.9,214.61 L76,217.79 L76.1,220.62 L76.2,223.08 L76.3,225.17 L76.4,226.95 L76.5,228.45 L76.6,229.73 L76.8,231.76 L77,233.29 L77.3,235.01 L77.7,236.67 L78.2,238.18 L78.9,239.66 L79.8,240.85 L81,241.74 L82.4,242.27 L82.4,243.2 Z" fill="#1e90d8" stroke="none"/>
<path d="M108.9,243.2 L108.9,240.53 L109.4,239.61 L109.8,238.46 L110.1,237.19 L110.3,236.03 L110.5,234.49 L110.7,232.42 L110.8,231.11 L110.9,229.57 L111,227.77 L111.1,225.65 L111.2,223.18 L111.3,220.34 L111.4,217.17 L111.6,210.41 L111.7,207.45 L111.8,205.35 L111.9,204.53 L112,205.14 L112.1,207.02 L112.2,209.78 L112.4,216.13 L112.5,219.11 L112.6,221.77 L112.7,224.07 L112.8,226.04 L112.9,227.71 L113,229.12 L113.1,230.31 L113.3,232.22 L113.5,233.66 L113.8,235.28 L114.2,236.86 L114.8,238.56 L115.5,239.91 L116.4,241 L117.7,241.87 L118.9,242.3 L118.9,243.2 Z" fill="#1e90d8" stroke="none"/>
<path d="M145.9,243.2 L145.9,240.41 L146.4,239.44 L146.8,238.23 L147.1,236.89 L147.3,235.66 L147.5,234.03 L147.6,233.02 L147.7,231.83 L147.8,230.45 L147.9,228.82 L148,226.9 L148.1,224.65 L148.2,222.03 L148.3,219.01 L148.4,215.65 L148.6,208.47 L148.7,205.32 L148.8,203.1 L148.9,202.23 L149,202.88 L149.1,204.9 L149.2,207.83 L149.4,214.61 L149.5,217.79 L149.6,220.62 L149.7,223.08 L149.8,225.17 L149.9,226.95 L150,228.45 L150.1,229.73 L150.3,231.76 L150.5,233.29 L150.8,235.01 L151.2,236.67 L151.7,238.18 L152.4,239.66 L153.3,240.85 L154.5,241.74 L155.9,242.27 L155.9,243.2 Z" fill="#1e90d8" stroke="none"/>
<path d="M218.8,243.2 L218.8,239.64 L219.3,238.35 L219.6,237.21 L219.9,235.6 L220.1,234.14 L220.3,232.22 L220.4,231.03 L220.5,229.64 L220.6,228.03 L220.7,226.12 L220.8,223.89 L220.9,221.25 L221,218.15 L221.1,214.53 L221.2,210.37 L221.3,205.71 L221.5,195.8 L221.6,191.45 L221.7,188.4 L221.8,187.23 L221.9,188.18 L222,191.03 L222.1,195.16 L222.3,204.68 L222.4,209.14 L222.5,213.12 L222.6,216.57 L222.7,219.52 L222.8,222.02 L222.9,224.13 L223,225.92 L223.1,227.45 L223.2,228.76 L223.4,230.88 L223.6,232.52 L223.9,234.4 L224.3,236.24 L224.8,237.89 L225.4,239.28 L226.2,240.48 L227.3,241.44 L228.8,242.12 L228.8,243.2 Z" fill="#1e90d8" stroke="none"/>
<path d="M255,243.2 L255,240.19 L255.5,239.13 L255.9,237.8 L256.2,236.32 L256.4,234.97 L256.6,233.17 L256.7,232.05 L256.8,230.74 L256.9,229.21 L257,227.4 L257.1,225.28 L257.2,222.79 L257.3,219.88 L257.4,216.54 L257.5,212.8 L257.7,204.84 L257.8,201.35 L257.9,198.88 L258,197.93 L258.1,198.67 L258.2,200.92 L258.3,204.2 L258.5,211.76 L258.6,215.31 L258.7,218.47 L258.8,221.21 L258.9,223.55 L259,225.54 L259.1,227.21 L259.2,228.64 L259.3,229.85 L259.5,231.81 L259.7,233.3 L260,235 L260.4,236.67 L260.9,238.19 L261.6,239.67 L262.5,240.85 L263.7,241.72 L265,242.23 L265,243.2 Z" fill="#1e90d8" stroke="none"/>
<path d="M291.2,243.2 L291.2,240.36 L291.7,239.37 L292.1,238.13 L292.4,236.76 L292.6,235.5 L292.8,233.83 L292.9,232.79 L293,231.58 L293.1,230.16 L293.2,228.49 L293.3,226.52 L293.4,224.22 L293.5,221.53 L293.6,218.44 L293.7,214.98 L293.9,207.63 L294,204.4 L294.1,202.12 L294.2,201.23 L294.3,201.9 L294.4,203.97 L294.5,206.99 L294.7,213.95 L294.8,217.21 L294.9,220.12 L295,222.64 L295.1,224.8 L295.2,226.62 L295.3,228.16 L295.4,229.48 L295.6,231.56 L295.8,233.13 L296.1,234.89 L296.5,236.58 L297,238.12 L297.7,239.62 L298.6,240.83 L299.8,241.72 L301.2,242.26 L301.2,243.2 Z" fill="#1e90d8" stroke="none"/>
<path d="M327.7,243.2 L327.7,240.41 L328.2,239.44 L328.6,238.23 L328.9,236.89 L329.1,235.66 L329.3,234.03 L329.4,233.02 L329.5,231.83 L329.6,230.45 L329.7,228.82 L329.8,226.9 L329.9,224.65 L330,222.03 L330.1,219.01 L330.2,215.65 L330.4,208.47 L330.5,205.32 L330.6,203.1 L330.7,202.23 L330.8,202.88 L330.9,204.9 L331,207.83 L331.2,214.61 L331.3,217.79 L331.4,220.62 L331.5,223.08 L331.6,225.17 L331.7,226.95 L331.8,228.45 L331.9,229.73 L332.1,231.76 L332.3,233.29 L332.6,235.01 L333,236.67 L333.5,238.18 L334.2,239.66 L335.1,240.85 L336.3,241.74 L337.7,242.27 L337.7,243.2 Z" fill="#1e90d8" stroke="none"/>
<path d="M180,243.2 L180,241.91 L181.3,241.14 L182.2,240.11 L182.8,238.94 L183.2,237.75 L183.5,236.5 L183.8,234.77 L184,233.23 L184.2,231.25 L184.3,230.05 L184.4,228.67 L184.5,227.08 L184.6,225.25 L184.7,223.14 L184.8,220.71 L184.9,217.9 L185,214.7 L185.1,211.08 L185.2,207.07 L185.4,198.36 L185.5,194.17 L185.6,190.63 L185.7,188.2 L185.8,187.26 L185.9,187.94 L186,190.12 L186.1,193.41 L186.2,197.35 L186.4,205.61 L186.5,209.42 L186.6,212.85 L186.7,215.89 L186.8,218.56 L186.9,220.87 L187,222.89 L187.1,224.65 L187.2,226.19 L187.4,228.75 L187.6,230.79 L187.9,233.16 L188.2,234.96 L188.6,236.76 L189.1,238.36 L189.7,239.64 L190.5,240.72 L191.7,241.63 L193.7,242.33 L194,242.4 L194,243.2 Z" fill="#1e90d8" stroke="none"/>
<path d="M28,243.2 L28,243.1 L31,242.85 L32.2,242.31 L33.2,241.31 L35,238.7 L35.6,238.31 L36.2,238.51 L37,239.51 L38.4,241.56 L39.4,242.44 L40.8,242.93 L41.2,242.98 L41.2,243.2 Z" fill="#d8141c" stroke="none"/>
<path d="M64.4,243.2 L64.4,243.1 L67.4,242.84 L68.6,242.29 L69.6,241.27 L71.4,238.61 L72,238.21 L72.6,238.42 L73.4,239.43 L74.8,241.52 L75.8,242.43 L77.2,242.92 L77.6,242.98 L77.6,243.2 Z" fill="#d8141c" stroke="none"/>
<path d="M100.9,243.2 L100.9,243.07 L103.7,242.81 L104.9,242.23 L105.8,241.23 L106.8,239.46 L107.8,237.56 L108.3,237 L108.8,236.94 L109.3,237.42 L110.2,239.06 L111.3,241.09 L112.2,242.15 L113.3,242.75 L114.1,242.92 L114.1,243.2 Z" fill="#d8141c" stroke="none"/>
<path d="M137.9,243.2 L137.9,243.08 L140.8,242.83 L142,242.26 L142.9,241.32 L144.2,239.16 L145,237.94 L145.5,237.61 L146,237.76 L146.7,238.64 L148.2,241.18 L149.1,242.18 L150.2,242.77 L151.1,242.95 L151.1,243.2 Z" fill="#d8141c" stroke="none"/>
<path d="M210.8,243.2 L210.8,243.06 L213.6,242.77 L214.7,242.22 L215.6,241.2 L216.5,239.54 L217.7,237.02 L218.2,236.41 L218.7,236.35 L219.2,236.87 L220,238.44 L221.1,240.71 L221.9,241.84 L222.9,242.59 L224,242.9 L224,243.2 Z" fill="#d8141c" stroke="none"/>
<path d="M247,243.2 L247,243.06 L249.8,242.79 L250.9,242.27 L251.8,241.32 L252.7,239.75 L253.9,237.38 L254.4,236.8 L254.9,236.75 L255.4,237.23 L256.3,238.92 L257.4,241.02 L258.3,242.11 L259.4,242.73 L260.2,242.91 L260.2,243.2 Z" fill="#d8141c" stroke="none"/>
<path d="M283.2,243.2 L283.2,243.07 L286.1,242.79 L287.2,242.24 L288.1,241.26 L289.1,239.52 L290.1,237.65 L290.6,237.1 L291.1,237.04 L291.6,237.51 L292.5,239.12 L293.6,241.12 L294.5,242.16 L295.6,242.76 L296.4,242.93 L296.4,243.2 Z" fill="#d8141c" stroke="none"/>
<path d="M319.7,243.2 L319.7,243.08 L322.6,242.82 L323.8,242.25 L324.7,241.29 L325.9,239.27 L326.7,237.97 L327.3,237.51 L327.8,237.66 L328.5,238.56 L330,241.15 L330.9,242.17 L332,242.76 L332.9,242.95 L332.9,243.2 Z" fill="#d8141c" stroke="none"/>
<path d="M128,243.2 L128,243.16 L130.1,242.82 L131.6,242.05 L134.6,239.37 L135.6,239 L136.6,239.25 L138,240.41 L139.9,242.12 L141.4,242.86 L143.8,243.17 L144,243.18 L144,243.2 Z" fill="#f7e812" stroke="none"/>
<path d="M167,243.2 L167,243.12 L169.4,242.91 L170.2,242.42 L170.7,241.66 L171.2,240.4 L172.3,236.56 L172.6,235.86 L172.9,235.6 L173.2,235.86 L173.6,236.87 L174.6,240.4 L175.1,241.66 L175.6,242.42 L176.4,242.91 L179,243.12 L179,243.2 Z" fill="#f28a1a" stroke="none"/>
<path d="M173,243.2 L173,243.09 L176.1,242.82 L177.2,242.3 L178.1,241.31 L179,239.7 L180,237.71 L180.5,237.11 L181,237.05 L181.5,237.56 L182.5,239.49 L183.4,241.16 L184.2,242.14 L185.2,242.73 L187,243.02 L187,243.2 Z" fill="#d8141c" stroke="none"/>
<path d="M25.5,226.05 L30.1,225.4 L32.3,224.42 L33.5,223.2 L34.3,221.75 L34.9,220.11 L36.3,214.94 L37.1,212.38 L37.3,211.36 L37.5,209.9 L37.7,207.78 L37.9,204.7 L38.1,200.25 L38.3,194 L38.5,185.77 L38.7,176.62 L38.9,170 L39.1,170.17 L39.3,177.12 L39.5,186.63 L39.7,195.26 L39.9,201.95 L40.1,206.88 L40.3,210.5 L40.5,213.19 L40.7,215.23 L40.9,216.81 L41.3,219.09 L41.7,220.62 L42.3,222.16 L43.3,223.64 L44.9,224.8 L47.9,225.63 L55.1,226.01 L63.1,225.55 L66.9,224.74 L68.7,223.76 L69.9,222.43 L70.7,220.86 L71.3,219.09 L72.7,213.58 L73.5,210.89 L73.7,209.83 L73.9,208.31 L74.1,206.1 L74.3,202.87 L74.5,198.22 L74.7,191.66 L74.9,183.03 L75.1,173.44 L75.3,166.5 L75.5,166.67 L75.7,173.97 L75.9,183.95 L76.1,192.99 L76.3,200.01 L76.5,205.17 L76.7,208.96 L76.9,211.77 L77.1,213.9 L77.3,215.55 L77.5,216.86 L77.9,218.78 L78.5,220.63 L79.3,222.09 L80.5,223.27 L82.5,224.14 L86.7,224.61 L95.3,224.32 L101.5,223.41 L104.1,222.44 L105.7,221.12 L106.7,219.55 L107.3,218.06 L107.9,215.96 L109.1,210.61 L109.9,207.84 L110.1,206.9 L110.3,205.58 L110.5,203.66 L110.7,200.84 L110.9,196.73 L111.1,190.84 L111.3,182.75 L111.5,172.76 L111.7,163.32 L111.9,159.3 L112.1,163.71 L112.3,173.55 L112.5,183.98 L112.7,192.55 L112.9,198.97 L113.1,203.67 L113.3,207.12 L113.5,209.7 L113.7,211.68 L113.9,213.22 L114.3,215.44 L114.7,216.94 L115.3,218.42 L116.3,219.8 L117.7,220.68 L120.3,221.08 L129.9,221.01 L132.7,220.03 L134.3,218.77 L135.9,216.99 L136.7,216.81 L139.1,218.71 L140.5,219.03 L141.9,218.53 L142.9,217.48 L143.7,215.95 L144.3,214.16 L144.9,211.71 L146.1,205.88 L146.9,202.68 L147.1,201.46 L147.3,199.73 L147.5,197.21 L147.7,193.51 L147.9,188.15 L148.1,180.47 L148.3,169.94 L148.5,156.96 L148.7,144.67 L148.9,139.4 L149.1,145.03 L149.3,157.71 L149.5,171.09 L149.7,182.06 L149.9,190.21 L150.1,196.08 L150.3,200.3 L150.5,203.36 L150.7,205.62 L150.9,207.3 L151.1,208.59 L151.7,211.37 L152.7,215.37 L153.3,217.25 L154.1,218.93 L155.3,220.33 L157.3,221.41 L160.9,222.04 L165.7,221.91 L168.3,221.18 L169.5,220.26 L170.3,219.06 L170.9,217.54 L171.9,213.83 L172.1,213.25 L172.3,212.92 L172.5,212.89 L172.7,213.17 L173.1,214.37 L173.9,217.12 L174.5,218.46 L175.3,219.42 L176.5,219.91 L178.3,219.64 L179.3,218.91 L179.9,217.9 L180.3,216.7 L180.7,214.75 L180.9,213.36 L181.1,211.61 L181.3,209.42 L181.5,206.69 L181.7,203.34 L181.9,199.24 L182.1,194.3 L182.3,188.39 L182.5,181.41 L182.7,173.26 L182.9,163.87 L183.1,153.17 L183.3,141.15 L183.5,129.5 L189.5,129.5 L189.7,140.8 L189.9,152.84 L190.1,163.56 L190.3,172.98 L190.5,181.15 L190.7,188.16 L190.9,194.09 L191.1,199.06 L191.3,203.18 L191.5,206.56 L191.7,209.31 L191.9,211.52 L192.1,213.3 L192.3,214.71 L192.7,216.71 L193.1,217.97 L193.7,219.05 L194.9,220.07 L197.9,221.17 L203.5,221.93 L209.7,221.83 L213.1,221.14 L214.9,220.16 L216.1,218.77 L216.9,217.14 L217.5,215.27 L218.1,212.67 L219.3,206.65 L219.7,204.66 L219.9,203.36 L220.1,201.62 L220.3,199.17 L220.5,195.67 L220.7,190.65 L220.9,183.47 L221.1,173.42 L221.3,160.24 L221.5,145.6 L221.7,135 L221.9,135.22 L222.1,146.26 L222.3,161.37 L222.5,175.06 L222.7,185.67 L222.9,193.46 L223.1,199.15 L223.3,203.35 L223.5,206.51 L223.7,208.94 L223.9,210.86 L224.1,212.39 L224.5,214.67 L224.9,216.27 L225.5,217.91 L226.3,219.28 L227.7,220.61 L230.1,221.62 L235.1,222.31 L246.1,222.52 L249.9,221.96 L251.7,221.02 L252.7,219.91 L253.5,218.37 L254.3,215.93 L255.5,211.6 L255.9,210.28 L256.1,209.43 L256.3,208.29 L256.5,206.68 L256.7,204.36 L256.9,201.02 L257.1,196.23 L257.3,189.51 L257.5,180.69 L257.7,170.89 L257.9,163.8 L258.1,163.96 L258.3,171.37 L258.5,181.51 L258.7,190.71 L258.9,197.85 L259.1,203.11 L259.3,206.96 L259.5,209.82 L259.7,211.99 L259.9,213.67 L260.1,215.01 L260.5,216.97 L261.1,218.88 L261.9,220.41 L263.1,221.69 L265.3,222.78 L269.9,223.61 L279.1,224.04 L284.7,223.66 L287.1,222.88 L288.5,221.71 L289.3,220.46 L290.1,218.41 L291.5,213.32 L292.3,210.82 L292.5,209.83 L292.7,208.41 L292.9,206.33 L293.1,203.31 L293.3,198.94 L293.5,192.8 L293.7,184.7 L293.9,175.71 L294.1,169.2 L294.3,169.37 L294.5,176.23 L294.7,185.6 L294.9,194.1 L295.1,200.69 L295.3,205.56 L295.5,209.13 L295.7,211.78 L295.9,213.8 L296.1,215.37 L296.5,217.62 L296.9,219.15 L297.5,220.69 L298.5,222.19 L300.1,223.38 L303.1,224.28 L310.3,224.86 L319.3,224.79 L322.7,224.15 L324.5,223.11 L325.5,221.88 L326.3,220.18 L327.1,217.55 L327.9,214.56 L328.7,212.19 L328.9,211.37 L329.1,210.22 L329.3,208.55 L329.5,206.11 L329.7,202.56 L329.9,197.47 L330.1,190.5 L330.3,181.89 L330.5,173.76 L330.7,170.3 L330.9,174.1 L331.1,182.59 L331.3,191.58 L331.5,198.99 L331.7,204.55 L331.9,208.62 L332.1,211.62 L332.3,213.88 L332.5,215.62 L332.7,216.99 L333.1,218.99 L333.7,220.9 L334.5,222.42 L335.7,223.68 L337.7,224.66 L340.5,225.25" fill="none" stroke="#111" stroke-width="1.15" stroke-linejoin="round"/>
<path d="M25.5,204.03 L30.5,203.42 L32.5,202.59 L33.7,201.48 L34.5,200.14 L35.3,198.07 L36.3,195.18 L37.1,193.67 L37.3,193.12 L37.5,192.3 L37.7,191.06 L37.9,189.23 L38.1,186.54 L38.3,182.72 L38.5,177.68 L38.7,172.06 L38.9,168 L39.1,168.13 L39.3,172.46 L39.5,178.37 L39.7,183.74 L39.9,187.92 L40.1,191.02 L40.3,193.3 L40.5,195.02 L40.7,196.34 L41.1,198.22 L41.7,199.97 L42.5,201.34 L43.9,202.58 L46.3,203.45 L51.9,203.96 L62.7,203.8 L67.1,203.13 L69.1,202.15 L70.3,200.79 L71.1,199.17 L72.1,196.06 L72.7,194.28 L73.5,192.64 L73.7,192.04 L73.9,191.14 L74.1,189.79 L74.3,187.78 L74.5,184.83 L74.7,180.65 L74.9,175.11 L75.1,168.95 L75.3,164.5 L75.5,164.65 L75.7,169.4 L75.9,175.89 L76.1,181.77 L76.3,186.36 L76.5,189.75 L76.7,192.25 L76.9,194.12 L77.1,195.56 L77.5,197.59 L78.1,199.47 L78.9,200.93 L80.1,202.1 L82.3,203.03 L87.1,203.57 L97.3,203.42 L102.5,202.76 L104.9,201.82 L106.1,200.77 L106.9,199.54 L107.7,197.55 L109.1,192.54 L110.1,190.09 L110.3,189.25 L110.5,187.99 L110.7,186.09 L110.9,183.29 L111.1,179.22 L111.3,173.6 L111.5,166.65 L111.7,160.07 L111.9,157.3 L112.1,160.43 L112.3,167.38 L112.5,174.73 L112.7,180.79 L112.9,185.35 L113.1,188.7 L113.3,191.18 L113.5,193.05 L113.7,194.49 L114.1,196.56 L114.7,198.49 L115.5,199.98 L116.7,201.17 L118.7,202.04 L122.9,202.51 L129.5,202.25 L132.3,201.52 L133.9,200.43 L135.9,198.11 L136.7,197.89 L138.1,199.09 L139.5,200.03 L140.9,200.09 L142.1,199.46 L143.1,198.25 L143.9,196.52 L144.5,194.58 L145.3,191.05 L145.9,188.29 L146.5,186.33 L146.9,185.2 L147.1,184.38 L147.3,183.17 L147.5,181.35 L147.7,178.62 L147.9,174.6 L148.1,168.78 L148.3,160.75 L148.5,150.82 L148.7,141.42 L148.9,137.4 L149.1,141.76 L149.3,151.52 L149.5,161.83 L149.7,170.26 L149.9,176.53 L150.1,181.04 L150.3,184.27 L150.5,186.6 L150.7,188.31 L150.9,189.57 L151.3,191.33 L152.9,196.79 L153.7,198.73 L154.7,200.15 L156.3,201.27 L159.3,202.08 L164.7,202.32 L167.7,201.78 L169.1,201 L170.1,199.73 L170.7,198.37 L171.7,195.56 L172.1,195.28 L172.5,195.91 L173.5,198.59 L174.3,199.89 L175.5,200.69 L177.5,200.79 L179.1,200.16 L179.9,199.16 L180.3,198.17 L180.7,196.58 L180.9,195.46 L181.1,194.07 L181.3,192.33 L181.5,190.2 L181.7,187.59 L181.9,184.44 L182.1,180.67 L182.3,176.21 L182.5,170.98 L182.7,164.92 L182.9,158 L183.1,150.17 L183.3,141.44 L183.5,131.83 L183.7,129.5 L189.3,129.5 L189.5,131.51 L189.7,141.13 L189.9,149.87 L190.1,157.71 L190.3,164.65 L190.5,170.72 L190.7,175.96 L190.9,180.44 L191.1,184.22 L191.3,187.39 L191.5,190.01 L191.7,192.16 L191.9,193.9 L192.1,195.31 L192.5,197.34 L192.9,198.63 L193.5,199.72 L194.7,200.65 L198.1,201.53 L204.9,202 L211.1,201.54 L213.9,200.71 L215.5,199.54 L216.5,198.1 L217.1,196.72 L217.7,194.73 L219.1,188.49 L219.7,186.29 L219.9,185.37 L220.1,184.11 L220.3,182.32 L220.5,179.71 L220.7,175.9 L220.9,170.41 L221.1,162.68 L221.3,152.5 L221.5,141.19 L221.7,133 L221.9,133.22 L222.1,141.84 L222.3,153.62 L222.5,164.3 L222.7,172.58 L222.9,178.68 L223.1,183.14 L223.3,186.45 L223.5,188.95 L223.7,190.88 L223.9,192.41 L224.3,194.65 L224.7,196.2 L225.3,197.76 L226.3,199.3 L227.9,200.52 L230.7,201.37 L237.3,201.87 L247.7,201.89 L250.7,201.31 L252.3,200.34 L253.3,199.04 L254.1,197.26 L255.3,193.84 L256.1,192.01 L256.3,191.29 L256.5,190.26 L256.7,188.76 L256.9,186.57 L257.1,183.4 L257.3,178.94 L257.5,173.06 L257.7,166.53 L257.9,161.8 L258.1,161.92 L258.3,166.91 L258.5,173.72 L258.7,179.9 L258.9,184.71 L259.1,188.26 L259.3,190.89 L259.5,192.85 L259.7,194.35 L260.1,196.47 L260.7,198.44 L261.5,199.96 L262.7,201.22 L264.9,202.27 L269.7,203.09 L279.5,203.55 L285.1,203.22 L287.5,202.46 L288.7,201.5 L289.7,199.95 L290.5,197.89 L291.5,195.01 L292.3,193.49 L292.5,192.92 L292.7,192.07 L292.9,190.81 L293.1,188.93 L293.3,186.17 L293.5,182.27 L293.7,177.11 L293.9,171.35 L294.1,167.2 L294.3,167.34 L294.5,171.78 L294.7,177.83 L294.9,183.33 L295.1,187.61 L295.3,190.79 L295.5,193.13 L295.7,194.89 L295.9,196.24 L296.3,198.17 L296.9,199.97 L297.7,201.38 L298.9,202.55 L301.1,203.52 L306.1,204.24 L318.5,204.55 L322.7,204.05 L324.5,203.22 L325.7,201.94 L326.5,200.37 L327.9,196.37 L328.9,194.4 L329.1,193.73 L329.3,192.72 L329.5,191.21 L329.7,188.97 L329.9,185.73 L330.1,181.26 L330.3,175.73 L330.5,170.51 L330.7,168.3 L330.9,170.79 L331.1,176.31 L331.3,182.16 L331.5,186.98 L331.7,190.62 L331.9,193.3 L332.1,195.3 L332.3,196.82 L332.7,198.94 L333.1,200.35 L333.7,201.75 L334.7,203.11 L336.3,204.21 L339.5,205.08 L340.5,205.21" fill="none" stroke="#111" stroke-width="1.25" stroke-linejoin="round"/>
<line x1="24.7" y1="247.9" x2="340.5" y2="247.9" stroke="#111" stroke-width="1.5"/>
<line x1="25.2" y1="247.9" x2="25.2" y2="250.3" stroke="#111" stroke-width="1.1"/>
<line x1="40.94" y1="247.9" x2="40.94" y2="250.3" stroke="#111" stroke-width="1.1"/>
<line x1="56.68" y1="247.9" x2="56.68" y2="250.3" stroke="#111" stroke-width="1.1"/>
<line x1="72.42" y1="247.9" x2="72.42" y2="250.3" stroke="#111" stroke-width="1.1"/>
<line x1="88.16" y1="247.9" x2="88.16" y2="250.3" stroke="#111" stroke-width="1.1"/>
<line x1="103.9" y1="247.9" x2="103.9" y2="250.3" stroke="#111" stroke-width="1.1"/>
<line x1="119.64" y1="247.9" x2="119.64" y2="250.3" stroke="#111" stroke-width="1.1"/>
<line x1="135.38" y1="247.9" x2="135.38" y2="250.3" stroke="#111" stroke-width="1.1"/>
<line x1="151.12" y1="247.9" x2="151.12" y2="250.3" stroke="#111" stroke-width="1.1"/>
<line x1="166.86" y1="247.9" x2="166.86" y2="250.3" stroke="#111" stroke-width="1.1"/>
<line x1="182.6" y1="247.9" x2="182.6" y2="250.3" stroke="#111" stroke-width="1.1"/>
<line x1="198.34" y1="247.9" x2="198.34" y2="250.3" stroke="#111" stroke-width="1.1"/>
<line x1="214.08" y1="247.9" x2="214.08" y2="250.3" stroke="#111" stroke-width="1.1"/>
<line x1="229.82" y1="247.9" x2="229.82" y2="250.3" stroke="#111" stroke-width="1.1"/>
<line x1="245.56" y1="247.9" x2="245.56" y2="250.3" stroke="#111" stroke-width="1.1"/>
<line x1="261.3" y1="247.9" x2="261.3" y2="250.3" stroke="#111" stroke-width="1.1"/>
<line x1="277.04" y1="247.9" x2="277.04" y2="250.3" stroke="#111" stroke-width="1.1"/>
<line x1="292.78" y1="247.9" x2="292.78" y2="250.3" stroke="#111" stroke-width="1.1"/>
<line x1="308.52" y1="247.9" x2="308.52" y2="250.3" stroke="#111" stroke-width="1.1"/>
<line x1="324.26" y1="247.9" x2="324.26" y2="250.3" stroke="#111" stroke-width="1.1"/>
<line x1="340" y1="247.9" x2="340" y2="250.3" stroke="#111" stroke-width="1.1"/>
<line x1="33.07" y1="247.9" x2="33.07" y2="250.3" stroke="#111" stroke-width="1.0"/>
<line x1="48.81" y1="247.9" x2="48.81" y2="250.3" stroke="#111" stroke-width="1.0"/>
<line x1="64.55" y1="247.9" x2="64.55" y2="250.3" stroke="#111" stroke-width="1.0"/>
<line x1="80.29" y1="247.9" x2="80.29" y2="250.3" stroke="#111" stroke-width="1.0"/>
<line x1="96.03" y1="247.9" x2="96.03" y2="250.3" stroke="#111" stroke-width="1.0"/>
<line x1="111.77" y1="247.9" x2="111.77" y2="250.3" stroke="#111" stroke-width="1.0"/>
<line x1="127.51" y1="247.9" x2="127.51" y2="250.3" stroke="#111" stroke-width="1.0"/>
<line x1="143.25" y1="247.9" x2="143.25" y2="250.3" stroke="#111" stroke-width="1.0"/>
<line x1="158.99" y1="247.9" x2="158.99" y2="250.3" stroke="#111" stroke-width="1.0"/>
<line x1="174.73" y1="247.9" x2="174.73" y2="250.3" stroke="#111" stroke-width="1.0"/>
<line x1="190.47" y1="247.9" x2="190.47" y2="250.3" stroke="#111" stroke-width="1.0"/>
<line x1="206.21" y1="247.9" x2="206.21" y2="250.3" stroke="#111" stroke-width="1.0"/>
<line x1="221.95" y1="247.9" x2="221.95" y2="250.3" stroke="#111" stroke-width="1.0"/>
<line x1="237.69" y1="247.9" x2="237.69" y2="250.3" stroke="#111" stroke-width="1.0"/>
<line x1="253.43" y1="247.9" x2="253.43" y2="250.3" stroke="#111" stroke-width="1.0"/>
<line x1="269.17" y1="247.9" x2="269.17" y2="250.3" stroke="#111" stroke-width="1.0"/>
<line x1="284.91" y1="247.9" x2="284.91" y2="250.3" stroke="#111" stroke-width="1.0"/>
<line x1="300.65" y1="247.9" x2="300.65" y2="250.3" stroke="#111" stroke-width="1.0"/>
<line x1="316.39" y1="247.9" x2="316.39" y2="250.3" stroke="#111" stroke-width="1.0"/>
<line x1="332.13" y1="247.9" x2="332.13" y2="250.3" stroke="#111" stroke-width="1.0"/>
<text x="25.2" y="256.3" font-size="5.4" font-weight="bold" text-anchor="middle" fill="#111" style="" >200</text>
<text x="40.94" y="256.3" font-size="5.4" font-weight="bold" text-anchor="middle" fill="#111" style="" >180</text>
<text x="56.68" y="256.3" font-size="5.4" font-weight="bold" text-anchor="middle" fill="#111" style="" >160</text>
<text x="72.42" y="256.3" font-size="5.4" font-weight="bold" text-anchor="middle" fill="#111" style="" >140</text>
<text x="88.16" y="256.3" font-size="5.4" font-weight="bold" text-anchor="middle" fill="#111" style="" >120</text>
<text x="103.9" y="256.3" font-size="5.4" font-weight="bold" text-anchor="middle" fill="#111" style="" >100</text>
<text x="119.64" y="256.3" font-size="5.4" font-weight="bold" text-anchor="middle" fill="#111" style="" >80</text>
<text x="135.38" y="256.3" font-size="5.4" font-weight="bold" text-anchor="middle" fill="#111" style="" >60</text>
<text x="151.12" y="256.3" font-size="5.4" font-weight="bold" text-anchor="middle" fill="#111" style="" >40</text>
<text x="166.86" y="256.3" font-size="5.4" font-weight="bold" text-anchor="middle" fill="#111" style="" >20</text>
<text x="182.6" y="256.3" font-size="5.4" font-weight="bold" text-anchor="middle" fill="#111" style="" >0</text>
<text x="199.04" y="256.3" font-size="5.4" font-weight="bold" text-anchor="middle" fill="#111" style="" >-20</text>
<text x="214.78" y="256.3" font-size="5.4" font-weight="bold" text-anchor="middle" fill="#111" style="" >-40</text>
<text x="230.52" y="256.3" font-size="5.4" font-weight="bold" text-anchor="middle" fill="#111" style="" >-60</text>
<text x="246.26" y="256.3" font-size="5.4" font-weight="bold" text-anchor="middle" fill="#111" style="" >-80</text>
<text x="262" y="256.3" font-size="5.4" font-weight="bold" text-anchor="middle" fill="#111" style="" >-100</text>
<text x="277.74" y="256.3" font-size="5.4" font-weight="bold" text-anchor="middle" fill="#111" style="" >-120</text>
<text x="293.48" y="256.3" font-size="5.4" font-weight="bold" text-anchor="middle" fill="#111" style="" >-140</text>
<text x="309.22" y="256.3" font-size="5.4" font-weight="bold" text-anchor="middle" fill="#111" style="" >-160</text>
<text x="324.96" y="256.3" font-size="5.4" font-weight="bold" text-anchor="middle" fill="#111" style="" >-180</text>
<text x="340.7" y="256.3" font-size="5.4" font-weight="bold" text-anchor="middle" fill="#111" style="" >-200</text>
<text x="130.4" y="265.8" font-size="7.4" font-weight="bold" text-anchor="start" fill="#111" stroke="#111" stroke-width="0.12"><tspan font-size="3.7" dy="-2.6">27</tspan><tspan dy="2.6">Al MAS NMR at 19.6 T (ppm)</tspan></text>
<text x="17.7" y="199.8" font-size="7.4" font-weight="normal" fill="#222" stroke="#222" stroke-width="0.12">exp</text>
<text x="18.6" y="222.8" font-size="7.4" font-weight="normal" fill="#222" stroke="#222" stroke-width="0.12">sim</text>
<text x="26" y="236.6" font-size="7.6" font-weight="bold" fill="#a31d24" stroke="#a31d24" stroke-width="0.12">5/2</text>
<text x="42.8" y="236.6" font-size="7.6" font-weight="bold" fill="#1f6aa5" stroke="#1f6aa5" stroke-width="0.12">3/2</text>
<text x="125.2" y="232.6" font-size="7.3" font-weight="bold" fill="#b5ad1e" stroke="#b5ad1e" stroke-width="0.12">Al<tspan font-size="4.2" dy="-3">III</tspan></text>
<text x="158.4" y="232.6" font-size="7.3" font-weight="bold" fill="#c0782a" stroke="#c0782a" stroke-width="0.12">Al<tspan font-size="4.2" dy="-3">II</tspan></text>
<text x="193.5" y="174.8" font-size="7.3" font-weight="bold" fill="#17843f" stroke="#17843f" stroke-width="0.12">Al<tspan font-size="4.2" dy="-3">I</tspan></text>
<text x="225.9" y="230.6" font-size="7.4" font-weight="bold" fill="#17843f" stroke="#17843f" stroke-width="0.12">1/2</text>
<circle cx="16.9" cy="423.7" r="13.35" fill="none" stroke="#222" stroke-width="1.1"/>
<text x="17.2" y="428.6" font-size="17.5" font-weight="bold" text-anchor="middle" fill="#111" stroke="#111" stroke-width="0.12" style="" >d</text>
<line x1="25.7" y1="522.2" x2="52.7" y2="522.2" stroke="#888" stroke-width="0.6"/>
<line x1="61.3" y1="522.2" x2="88.3" y2="522.2" stroke="#888" stroke-width="0.6"/>
<line x1="98" y1="522.2" x2="125" y2="522.2" stroke="#888" stroke-width="0.6"/>
<line x1="124" y1="522.2" x2="236" y2="522.2" stroke="#888" stroke-width="0.6"/>
<line x1="243.7" y1="522.2" x2="270.7" y2="522.2" stroke="#888" stroke-width="0.6"/>
<line x1="279" y1="522.2" x2="306" y2="522.2" stroke="#888" stroke-width="0.6"/>
<line x1="314.7" y1="522.2" x2="338.7" y2="522.2" stroke="#888" stroke-width="0.6"/>
<path d="M158,522 L158,520.87 L165.1,520.07 L169.5,519.06 L172.6,517.83 L174.9,516.37 L176.7,514.68 L178.2,512.71 L179.4,510.61 L180.4,508.34 L181,506.54 L181.4,504.87 L181.7,503.12 L181.9,501.56 L182.1,499.56 L182.2,498.35 L182.3,496.96 L182.4,495.38 L182.5,493.57 L182.6,491.5 L182.7,489.14 L182.8,486.47 L182.9,483.44 L183,480.01 L183.1,476.15 L183.2,471.83 L183.3,467 L183.4,461.64 L183.5,455.71 L183.6,449.18 L183.7,442.04 L183.8,434.27 L183.9,430 L188.8,430 L188.9,431 L189,438.74 L189.1,445.85 L189.2,452.36 L189.3,458.27 L189.4,463.62 L189.5,468.44 L189.6,472.77 L189.7,476.63 L189.8,480.07 L189.9,483.11 L190,485.81 L190.1,488.18 L190.2,490.27 L190.3,492.11 L190.4,493.73 L190.5,495.15 L190.7,497.5 L190.9,499.34 L191.2,501.42 L191.5,502.99 L192,504.96 L192.8,507.37 L193.9,510 L195.1,512.24 L196.5,514.21 L198.2,515.96 L200.4,517.5 L203.3,518.8 L207.4,519.87 L213.7,520.72 L216,520.9 L216,522 Z" fill="#0b9a46" stroke="none"/>
<path d="M143,522 L143,521.62 L145.7,521.13 L146.7,520.6 L147.3,519.86 L147.7,518.95 L148,517.9 L148.3,516.43 L148.6,514.48 L148.9,511.99 L149.2,509 L149.9,501.09 L150.1,499.07 L150.3,497.44 L150.4,496.83 L150.5,496.37 L150.6,496.09 L150.7,496 L150.8,496.09 L150.9,496.37 L151,496.83 L151.2,498.2 L151.4,500.05 L151.8,504.49 L152.2,509 L152.5,511.99 L152.8,514.48 L153.1,516.43 L153.4,517.9 L153.8,519.22 L154.3,520.17 L155.1,520.88 L156.9,521.42 L160,521.74 L160,522 Z" fill="#0b9a46" stroke="none"/>
<path d="M215,522 L215,521.69 L218.3,521.23 L219.6,520.66 L220.3,519.93 L220.8,518.91 L221.2,517.57 L221.5,516.14 L221.8,514.3 L222.1,512.04 L222.5,508.48 L223,503.84 L223.2,502.28 L223.4,501.11 L223.6,500.48 L223.7,500.4 L223.9,500.72 L224.1,501.64 L224.3,503.02 L224.6,505.64 L225.2,511.2 L225.5,513.59 L225.8,515.58 L226.1,517.13 L226.5,518.63 L227,519.77 L227.7,520.59 L229,521.2 L232.2,521.67 L233,521.73 L233,522 Z" fill="#0b9a46" stroke="none"/>
<path d="M36.7,522 L36.7,520.52 L37.3,519.74 L37.7,518.83 L38,517.74 L38.2,516.68 L38.4,515.19 L38.5,514.2 L38.6,513 L38.7,511.53 L38.8,509.69 L38.9,507.4 L39,504.5 L39.1,500.84 L39.2,496.27 L39.3,490.71 L39.5,477.94 L39.6,472.88 L39.7,470.86 L39.8,472.69 L39.9,477.57 L40.1,490.02 L40.2,495.45 L40.3,499.92 L40.4,503.51 L40.5,506.37 L40.6,508.66 L40.7,510.51 L40.8,512.03 L40.9,513.28 L41,514.32 L41.2,515.95 L41.4,517.14 L41.7,518.39 L42.1,519.45 L42.7,520.35 L43.7,521.07 L45.7,521.59 L46.7,521.7 L46.7,522 Z" fill="#1e90d8" stroke="none"/>
<path d="M72.3,522 L72.3,520.52 L72.9,519.74 L73.3,518.83 L73.6,517.74 L73.8,516.68 L74,515.19 L74.1,514.2 L74.2,513 L74.3,511.53 L74.4,509.69 L74.5,507.4 L74.6,504.5 L74.7,500.84 L74.8,496.27 L74.9,490.71 L75.1,477.94 L75.2,472.88 L75.3,470.86 L75.4,472.69 L75.5,477.57 L75.7,490.02 L75.8,495.45 L75.9,499.92 L76,503.51 L76.1,506.37 L76.2,508.66 L76.3,510.51 L76.4,512.03 L76.5,513.28 L76.6,514.32 L76.8,515.95 L77,517.14 L77.3,518.39 L77.7,519.45 L78.3,520.35 L79.3,521.07 L81.3,521.59 L82.3,521.7 L82.3,522 Z" fill="#1e90d8" stroke="none"/>
<path d="M109,522 L109,520.52 L109.6,519.74 L110,518.83 L110.3,517.74 L110.5,516.68 L110.7,515.19 L110.8,514.2 L110.9,513 L111,511.53 L111.1,509.69 L111.2,507.4 L111.3,504.5 L111.4,500.84 L111.5,496.27 L111.6,490.71 L111.8,477.94 L111.9,472.88 L112,470.86 L112.1,472.69 L112.2,477.57 L112.4,490.02 L112.5,495.45 L112.6,499.92 L112.7,503.51 L112.8,506.37 L112.9,508.66 L113,510.51 L113.1,512.03 L113.2,513.28 L113.3,514.32 L113.5,515.95 L113.7,517.14 L114,518.39 L114.4,519.45 L115,520.35 L116,521.07 L118,521.59 L119,521.7 L119,522 Z" fill="#1e90d8" stroke="none"/>
<path d="M145.8,522 L145.8,520.52 L146.4,519.74 L146.8,518.83 L147.1,517.74 L147.3,516.68 L147.5,515.19 L147.6,514.2 L147.7,513 L147.8,511.53 L147.9,509.69 L148,507.4 L148.1,504.5 L148.2,500.84 L148.3,496.27 L148.4,490.71 L148.6,477.94 L148.7,472.88 L148.8,470.86 L148.9,472.69 L149,477.57 L149.2,490.02 L149.3,495.45 L149.4,499.92 L149.5,503.51 L149.6,506.37 L149.7,508.66 L149.8,510.51 L149.9,512.03 L150,513.28 L150.1,514.32 L150.3,515.95 L150.5,517.14 L150.8,518.39 L151.2,519.45 L151.8,520.35 L152.8,521.07 L154.8,521.59 L155.8,521.7 L155.8,522 Z" fill="#1e90d8" stroke="none"/>
<path d="M218.5,522 L218.5,520.52 L219.1,519.74 L219.5,518.83 L219.8,517.74 L220,516.68 L220.2,515.19 L220.3,514.2 L220.4,513 L220.5,511.53 L220.6,509.69 L220.7,507.4 L220.8,504.5 L220.9,500.84 L221,496.27 L221.1,490.71 L221.3,477.94 L221.4,472.88 L221.5,470.86 L221.6,472.69 L221.7,477.57 L221.9,490.02 L222,495.45 L222.1,499.92 L222.2,503.51 L222.3,506.37 L222.4,508.66 L222.5,510.51 L222.6,512.03 L222.7,513.28 L222.8,514.32 L223,515.95 L223.2,517.14 L223.5,518.39 L223.9,519.45 L224.5,520.35 L225.5,521.07 L227.5,521.59 L228.5,521.7 L228.5,522 Z" fill="#1e90d8" stroke="none"/>
<path d="M254.7,522 L254.7,520.52 L255.3,519.74 L255.7,518.83 L256,517.74 L256.2,516.68 L256.4,515.19 L256.5,514.2 L256.6,513 L256.7,511.53 L256.8,509.69 L256.9,507.4 L257,504.5 L257.1,500.84 L257.2,496.27 L257.3,490.71 L257.5,477.94 L257.6,472.88 L257.7,470.86 L257.8,472.69 L257.9,477.57 L258.1,490.02 L258.2,495.45 L258.3,499.92 L258.4,503.51 L258.5,506.37 L258.6,508.66 L258.7,510.51 L258.8,512.03 L258.9,513.28 L259,514.32 L259.2,515.95 L259.4,517.14 L259.7,518.39 L260.1,519.45 L260.7,520.35 L261.7,521.07 L263.7,521.59 L264.7,521.7 L264.7,522 Z" fill="#1e90d8" stroke="none"/>
<path d="M290,522 L290,520.52 L290.6,519.74 L291,518.83 L291.3,517.74 L291.5,516.68 L291.7,515.19 L291.8,514.2 L291.9,513 L292,511.53 L292.1,509.69 L292.2,507.4 L292.3,504.5 L292.4,500.84 L292.5,496.27 L292.6,490.71 L292.8,477.94 L292.9,472.88 L293,470.86 L293.1,472.69 L293.2,477.57 L293.4,490.02 L293.5,495.45 L293.6,499.92 L293.7,503.51 L293.8,506.37 L293.9,508.66 L294,510.51 L294.1,512.03 L294.2,513.28 L294.3,514.32 L294.5,515.95 L294.7,517.14 L295,518.39 L295.4,519.45 L296,520.35 L297,521.07 L299,521.59 L300,521.7 L300,522 Z" fill="#1e90d8" stroke="none"/>
<path d="M325.7,522 L325.7,520.52 L326.3,519.74 L326.7,518.83 L327,517.74 L327.2,516.68 L327.4,515.19 L327.5,514.2 L327.6,513 L327.7,511.53 L327.8,509.69 L327.9,507.4 L328,504.5 L328.1,500.84 L328.2,496.27 L328.3,490.71 L328.5,477.94 L328.6,472.88 L328.7,470.86 L328.8,472.69 L328.9,477.57 L329.1,490.02 L329.2,495.45 L329.3,499.92 L329.4,503.51 L329.5,506.37 L329.6,508.66 L329.7,510.51 L329.8,512.03 L329.9,513.28 L330,514.32 L330.2,515.95 L330.4,517.14 L330.7,518.39 L331.1,519.45 L331.7,520.35 L332.7,521.07 L334.7,521.59 L335.7,521.7 L335.7,522 Z" fill="#1e90d8" stroke="none"/>
<path d="M180,522 L180,520.89 L181.5,520.09 L182.4,519.13 L183,518.02 L183.4,516.88 L183.7,515.67 L184,513.99 L184.2,512.49 L184.4,510.55 L184.5,509.36 L184.6,508 L184.7,506.43 L184.8,504.62 L184.9,502.54 L185,500.14 L185.1,497.4 L185.2,494.3 L185.3,490.88 L185.5,483.44 L185.6,479.86 L185.7,476.84 L185.8,474.75 L185.9,473.93 L186,474.49 L186.1,476.32 L186.2,479.1 L186.3,482.44 L186.5,489.44 L186.6,492.67 L186.7,495.59 L186.8,498.18 L186.9,500.45 L187,502.43 L187.1,504.16 L187.2,505.68 L187.4,508.19 L187.6,510.17 L187.9,512.47 L188.2,514.2 L188.6,515.93 L189.1,517.45 L189.7,518.67 L190.6,519.79 L191.9,520.64 L194,521.26 L194,522 Z" fill="#1e90d8" stroke="none"/>
<path d="M28.7,522 L28.7,521.7 L31.3,521.3 L32.4,520.72 L33.2,519.85 L34,518.4 L35.2,515.33 L35.8,513.96 L36.2,513.47 L36.6,513.47 L37,513.96 L37.7,515.59 L38.8,518.4 L39.6,519.85 L40.5,520.8 L41.8,521.39 L41.9,521.42 L41.9,522 Z" fill="#d8141c" stroke="none"/>
<path d="M64.3,522 L64.3,521.72 L67,521.32 L68.1,520.73 L69,519.71 L69.8,518.22 L71.2,514.89 L71.7,514.14 L72.1,514.02 L72.5,514.37 L73.1,515.55 L74.4,518.65 L75.2,520 L76.1,520.88 L77.4,521.43 L77.5,521.46 L77.5,522 Z" fill="#d8141c" stroke="none"/>
<path d="M101,522 L101,521.69 L103.6,521.27 L104.7,520.66 L105.5,519.75 L106.2,518.45 L107.1,516.14 L107.9,514 L108.4,513.15 L108.8,513.02 L109.2,513.41 L109.7,514.49 L111,517.99 L111.7,519.43 L112.5,520.48 L113.6,521.2 L114.2,521.39 L114.2,522 Z" fill="#d8141c" stroke="none"/>
<path d="M137.8,522 L137.8,521.66 L140.3,521.24 L141.4,520.63 L142.2,519.7 L142.9,518.37 L143.7,516.23 L144.7,513.29 L145.1,512.49 L145.5,512.2 L145.9,512.49 L146.4,513.55 L147.8,517.64 L148.5,519.2 L149.3,520.35 L150.3,521.08 L151,521.33 L151,522 Z" fill="#d8141c" stroke="none"/>
<path d="M210.5,522 L210.5,521.71 L213.1,521.31 L214.3,520.66 L215.1,519.72 L215.9,518.22 L217.4,514.45 L217.9,513.64 L218.3,513.52 L218.7,513.89 L219.3,515.15 L220.6,518.44 L221.4,519.87 L222.3,520.81 L223.6,521.4 L223.7,521.42 L223.7,522 Z" fill="#d8141c" stroke="none"/>
<path d="M246.7,522 L246.7,521.71 L249.3,521.31 L250.5,520.66 L251.3,519.72 L252.1,518.22 L253.6,514.45 L254.1,513.64 L254.5,513.52 L254.9,513.89 L255.5,515.15 L256.8,518.44 L257.6,519.87 L258.5,520.81 L259.8,521.4 L259.9,521.42 L259.9,522 Z" fill="#d8141c" stroke="none"/>
<path d="M282,522 L282,521.71 L284.6,521.31 L285.8,520.66 L286.6,519.72 L287.4,518.22 L288.9,514.45 L289.4,513.64 L289.8,513.52 L290.2,513.89 L290.8,515.15 L292.1,518.44 L292.9,519.87 L293.8,520.81 L295.1,521.4 L295.2,521.42 L295.2,522 Z" fill="#d8141c" stroke="none"/>
<path d="M317.7,522 L317.7,521.71 L320.3,521.31 L321.5,520.66 L322.3,519.72 L323.1,518.22 L324.6,514.45 L325.1,513.64 L325.5,513.52 L325.9,513.89 L326.5,515.15 L327.8,518.44 L328.6,519.87 L329.5,520.81 L330.8,521.4 L330.9,521.42 L330.9,522 Z" fill="#d8141c" stroke="none"/>
<path d="M124,522 L124,521.94 L127,521.55 L129.1,520.75 L131.8,518.93 L133.9,517.59 L135.3,517.21 L136.7,517.42 L138.5,518.43 L141.7,520.64 L143.8,521.5 L146.7,521.92 L147,521.94 L147,522 Z" fill="#f7e812" stroke="none"/>
<path d="M137,522 L137,521.93 L140,521.73 L140.9,521.29 L141.6,520.45 L142.2,519.19 L143,516.78 L143.7,514.63 L144.1,513.8 L144.5,513.5 L144.9,513.8 L145.3,514.63 L146.7,518.92 L147.3,520.28 L148,521.21 L148.9,521.7 L150,521.87 L150,522 Z" fill="#d8141c" stroke="none"/>
<path d="M149,522 L149,521.97 L150.9,521.66 L152.1,520.95 L153.2,519.72 L155,517.23 L155.8,516.65 L156.5,516.69 L157.3,517.34 L159.6,520.46 L160.7,521.38 L162.1,521.87 L164,521.99 L164,522 Z" fill="#f3a6b3" stroke="none"/>
<path d="M165,522 L165,521.91 L167.8,521.7 L168.7,521.23 L169.3,520.44 L169.8,519.25 L170.3,517.45 L170.8,515.02 L171.9,508.7 L172.3,506.92 L172.6,506.09 L172.9,505.8 L173.2,506.09 L173.5,506.92 L173.9,508.7 L175.1,515.55 L175.6,517.87 L176.1,519.54 L176.6,520.61 L177.2,521.32 L178.2,521.75 L181,521.92 L181,522 Z" fill="#f28a1a" stroke="none"/>
<path d="M173,522 L173,521.93 L176.3,521.71 L177.3,521.22 L178,520.42 L178.7,519.06 L179.7,516.29 L180.4,514.43 L180.9,513.64 L181.3,513.52 L181.7,513.88 L182.2,514.9 L183.7,519.06 L184.4,520.42 L185.2,521.29 L186.3,521.75 L187,521.84 L187,522 Z" fill="#d8141c" stroke="none"/>
<path d="M25.5,498.22 L30.9,497.64 L32.9,496.86 L33.9,495.91 L34.7,494.46 L35.9,491.11 L36.3,490.7 L36.7,491.07 L37.5,492.3 L37.9,492.26 L38.1,491.92 L38.3,491.24 L38.5,490.05 L38.7,488.01 L38.9,484.38 L39.1,477.5 L39.3,463.45 L39.5,435.97 L39.7,412.5 L39.9,436.11 L40.1,463.74 L40.3,477.95 L40.5,485.01 L40.7,488.85 L40.9,491.13 L41.1,492.6 L41.3,493.6 L41.7,494.86 L42.3,495.88 L43.5,496.8 L46.1,497.42 L54.7,497.56 L64.9,497.04 L67.9,496.31 L69.3,495.28 L70.1,494.03 L70.9,491.92 L71.5,490.25 L71.9,489.84 L72.3,490.21 L73.1,491.45 L73.5,491.44 L73.7,491.11 L73.9,490.45 L74.1,489.3 L74.3,487.3 L74.5,483.76 L74.7,477.05 L74.9,463.34 L75.1,436.51 L75.3,413.6 L75.5,436.65 L75.7,463.62 L75.9,477.49 L76.1,484.39 L76.3,488.14 L76.5,490.37 L76.7,491.8 L76.9,492.78 L77.3,494.01 L77.9,495 L79.1,495.9 L81.7,496.51 L90.3,496.59 L101.5,496.02 L104.5,495.31 L105.9,494.33 L106.7,493.16 L107.5,491.13 L108.1,489.36 L108.5,488.73 L108.9,488.91 L109.7,490.11 L110.1,490.17 L110.3,489.89 L110.5,489.31 L110.7,488.28 L110.9,486.53 L111.1,483.51 L111.3,478.01 L111.5,467.18 L111.7,444.82 L111.9,409.7 L112.1,409.77 L112.3,445.03 L112.5,467.55 L112.7,478.55 L112.9,484.24 L113.1,487.48 L113.3,489.48 L113.5,490.81 L113.7,491.74 L114.1,492.94 L114.7,493.92 L115.9,494.83 L118.5,495.45 L127.3,495.57 L130.3,495.07 L132.7,493.84 L135.7,491.85 L137.3,491.51 L139.3,492.11 L141.3,492.9 L142.3,492.66 L142.9,491.92 L143.9,489.46 L144.1,489.18 L144.3,489.18 L144.7,489.91 L145.3,491.43 L145.9,492.21 L146.5,492.12 L146.9,491.49 L147.1,490.91 L147.3,490.05 L147.5,488.76 L147.7,486.75 L147.9,483.46 L148.1,477.61 L148.3,466.28 L148.5,443.06 L148.7,407.4 L148.9,407.4 L149.1,442.83 L149.3,465.9 L149.5,477.07 L149.7,482.75 L149.9,485.87 L150.1,487.68 L150.3,488.76 L150.5,489.39 L150.9,489.88 L151.7,490.1 L152.3,491.19 L153.1,492.95 L154.1,494.21 L155.7,495.02 L159.7,495.49 L165.1,495.21 L167.7,494.48 L169.1,493.47 L169.9,492.36 L170.5,491.02 L171.1,488.95 L171.7,485.96 L172.3,482.65 L172.5,481.85 L172.7,481.4 L172.9,481.37 L173.1,481.77 L173.5,483.48 L174.3,487.63 L174.9,489.8 L175.5,491.15 L176.3,492.11 L177.5,492.57 L178.9,492.25 L180.3,491.15 L181.1,489.94 L181.5,488.85 L181.7,488.02 L181.9,486.86 L182.1,485.24 L182.3,482.92 L182.5,479.63 L182.7,474.98 L182.9,468.51 L183.1,459.67 L183.3,447.85 L183.5,432.39 L183.7,412.68 L183.9,407.4 L188.7,407.4 L188.9,413.03 L189.1,432.77 L189.3,448.26 L189.5,460.11 L189.7,468.98 L189.9,475.48 L190.1,480.16 L190.3,483.49 L190.5,485.84 L190.7,487.5 L190.9,488.69 L191.3,490.21 L191.9,491.51 L193.3,493.25 L195.5,494.82 L198.9,496.05 L205.1,497.01 L211.7,496.95 L214.3,496.32 L215.5,495.43 L216.3,494.2 L217.1,492.1 L217.7,490.43 L218.1,490.03 L218.5,490.39 L219.3,491.57 L219.7,491.47 L219.9,491.07 L220.1,490.31 L220.3,489 L220.5,486.75 L220.7,482.78 L220.9,475.25 L221.1,459.89 L221.3,429.86 L221.5,407.4 L221.7,430.01 L221.9,460.21 L222.1,475.74 L222.3,483.46 L222.5,487.65 L222.7,490.15 L222.9,491.76 L223.1,492.85 L223.5,494.23 L224.1,495.34 L225.3,496.35 L227.9,497.08 L235.9,497.43 L246.9,497.09 L250.1,496.44 L251.5,495.55 L252.3,494.48 L253.1,492.59 L253.9,490.32 L254.3,489.92 L254.7,490.29 L255.5,491.53 L255.9,491.52 L256.1,491.18 L256.3,490.52 L256.5,489.35 L256.7,487.35 L256.9,483.78 L257.1,477 L257.3,463.17 L257.5,436.11 L257.7,413 L257.9,436.26 L258.1,463.47 L258.3,477.46 L258.5,484.42 L258.7,488.2 L258.9,490.45 L259.1,491.9 L259.3,492.89 L259.7,494.13 L260.3,495.14 L261.5,496.06 L264.1,496.7 L272.7,496.88 L283.5,496.6 L285.9,495.96 L287.1,495.02 L287.9,493.7 L289.1,490.39 L289.5,489.8 L289.9,490 L290.7,491.28 L291.1,491.4 L291.3,491.16 L291.5,490.63 L291.7,489.68 L291.9,488.04 L292.1,485.2 L292.3,479.99 L292.5,469.73 L292.7,448.52 L292.9,415.2 L293.1,415.28 L293.3,448.76 L293.5,470.14 L293.7,480.6 L293.9,486.01 L294.1,489.1 L294.3,491.02 L294.5,492.29 L294.9,493.84 L295.5,495.06 L296.5,496.03 L298.7,496.85 L305.1,497.43 L315.9,497.51 L320.5,496.98 L322.1,496.26 L323.1,495.2 L323.9,493.56 L324.9,490.76 L325.3,490.37 L325.7,490.76 L326.5,492.05 L326.9,492.08 L327.1,491.78 L327.3,491.17 L327.5,490.07 L327.7,488.17 L327.9,484.78 L328.1,478.34 L328.3,465.17 L328.5,439.41 L328.7,417.4 L328.9,439.56 L329.1,465.48 L329.3,478.82 L329.5,485.45 L329.7,489.06 L329.9,491.21 L330.1,492.6 L330.3,493.55 L330.7,494.75 L331.3,495.73 L332.5,496.64 L335.3,497.34 L340.5,497.65" fill="none" stroke="#111" stroke-width="1.15" stroke-linejoin="round"/>
<path d="M25.5,473.41 L31.3,473.02 L33.3,472.3 L34.3,471.34 L35.1,469.9 L35.9,468.16 L36.3,467.85 L36.9,468.41 L37.5,469.11 L37.9,469.11 L38.1,468.86 L38.3,468.37 L38.5,467.5 L38.7,466 L38.9,463.33 L39.1,458.27 L39.3,447.95 L39.5,427.75 L39.7,410.5 L39.9,427.86 L40.1,448.17 L40.3,458.62 L40.5,463.82 L40.7,466.65 L40.9,468.34 L41.1,469.43 L41.5,470.73 L42.1,471.72 L43.3,472.6 L46.1,473.26 L56.5,473.6 L65.7,473.08 L68.3,472.43 L69.5,471.59 L70.3,470.46 L71.5,467.87 L71.9,467.55 L72.5,468.1 L73.1,468.79 L73.5,468.78 L73.7,468.54 L73.9,468.06 L74.1,467.21 L74.3,465.74 L74.5,463.14 L74.7,458.2 L74.9,448.13 L75.1,428.43 L75.3,411.6 L75.5,428.52 L75.7,448.32 L75.9,458.51 L76.1,463.57 L76.3,466.32 L76.5,467.97 L76.7,469.02 L77.1,470.28 L77.7,471.22 L78.9,472.05 L81.7,472.6 L92.1,472.53 L102.5,472.13 L105.1,471.48 L106.3,470.6 L107.1,469.4 L108.3,466.86 L108.7,466.69 L109.9,467.85 L110.3,467.6 L110.5,467.17 L110.7,466.4 L110.9,465.09 L111.1,462.84 L111.3,458.73 L111.5,450.64 L111.7,433.93 L111.9,407.7 L112.1,407.75 L112.3,434.09 L112.5,450.9 L112.7,459.12 L112.9,463.38 L113.1,465.81 L113.3,467.31 L113.5,468.31 L113.9,469.54 L114.5,470.5 L115.7,471.37 L118.5,471.99 L126.5,472.15 L129.9,471.66 L132.3,470.49 L135.7,468.16 L137.3,467.78 L139.3,468.35 L141.5,469.17 L142.5,468.81 L143.1,467.95 L143.9,466.1 L144.1,465.85 L144.3,465.85 L144.7,466.53 L145.5,468.26 L146.1,468.76 L146.7,468.51 L147.1,467.79 L147.3,467.14 L147.5,466.17 L147.7,464.66 L147.9,462.18 L148.1,457.79 L148.3,449.3 L148.5,431.91 L148.7,404.69 L148.9,404.6 L149.1,431.66 L149.3,448.88 L149.5,457.19 L149.7,461.4 L149.9,463.68 L150.1,464.99 L150.3,465.73 L150.7,466.31 L151.7,466.27 L152.3,467.25 L153.3,469.24 L154.3,470.26 L156.3,470.97 L162.3,471.21 L166.7,470.75 L168.7,469.91 L169.7,468.94 L170.5,467.52 L171.1,465.77 L171.7,463.22 L172.3,460.39 L172.5,459.71 L172.7,459.33 L172.9,459.32 L173.1,459.66 L173.5,461.13 L174.3,464.72 L174.9,466.61 L175.5,467.79 L176.5,468.79 L177.9,469.16 L179.7,468.67 L180.7,467.79 L181.3,466.57 L181.7,465.01 L181.9,463.82 L182.1,462.23 L182.3,460.12 L182.5,457.34 L182.7,453.71 L182.9,449 L183.1,443 L183.3,435.45 L183.5,426.07 L183.7,414.62 L183.9,400.87 L184.1,398 L190.1,398 L190.3,401.3 L190.5,415.08 L190.7,426.56 L190.9,435.97 L191.1,443.56 L191.3,449.59 L191.5,454.32 L191.7,457.99 L191.9,460.81 L192.1,462.95 L192.3,464.57 L192.5,465.79 L192.9,467.43 L193.5,468.77 L194.7,470.04 L197.3,471.43 L201.7,472.55 L207.3,473.11 L212.9,472.95 L214.9,472.36 L216.1,471.3 L216.9,469.86 L217.7,468.11 L218.1,467.79 L218.7,468.33 L219.3,468.97 L219.7,468.88 L219.9,468.58 L220.1,467.99 L220.3,466.98 L220.5,465.27 L220.7,462.22 L220.9,456.47 L221.1,444.74 L221.3,421.8 L221.5,402.2 L221.7,421.91 L221.9,444.97 L222.1,456.83 L222.3,462.73 L222.5,465.94 L222.7,467.85 L222.9,469.08 L223.3,470.54 L223.9,471.65 L225.1,472.62 L227.7,473.31 L236.5,473.69 L247.1,473.38 L250.3,472.8 L251.7,472 L252.7,470.69 L253.9,468.1 L254.3,467.79 L254.9,468.34 L255.5,469.02 L255.9,469.01 L256.1,468.77 L256.3,468.28 L256.5,467.41 L256.7,465.92 L256.9,463.28 L257.1,458.27 L257.3,448.06 L257.5,428.07 L257.7,411 L257.9,428.17 L258.1,448.26 L258.3,458.59 L258.5,463.73 L258.7,466.52 L258.9,468.19 L259.1,469.26 L259.5,470.53 L260.1,471.5 L261.3,472.34 L264.1,472.92 L274.5,472.95 L284.1,472.71 L286.3,472.12 L287.5,471.14 L288.3,469.8 L289.1,468.02 L289.5,467.56 L289.9,467.72 L290.7,468.72 L291.1,468.82 L291.5,468.28 L291.7,467.58 L291.9,466.39 L292.1,464.31 L292.3,460.51 L292.5,453.01 L292.7,437.53 L292.9,413.2 L293.1,413.26 L293.3,437.7 L293.5,453.31 L293.7,460.95 L293.9,464.91 L294.1,467.17 L294.3,468.58 L294.5,469.52 L294.9,470.67 L295.7,471.8 L297.3,472.69 L301.3,473.33 L314.7,473.68 L320.5,473.28 L322.3,472.62 L323.3,471.67 L324.1,470.24 L324.9,468.51 L325.3,468.21 L325.9,468.79 L326.5,469.53 L326.9,469.57 L327.3,468.92 L327.5,468.13 L327.7,466.75 L327.9,464.29 L328.1,459.62 L328.3,450.06 L328.5,431.37 L328.7,415.4 L328.9,431.48 L329.1,450.29 L329.3,459.97 L329.5,464.79 L329.7,467.41 L329.9,468.98 L330.1,470 L330.5,471.21 L331.1,472.14 L332.5,473.07 L335.9,473.72 L340.5,473.94" fill="none" stroke="#111" stroke-width="1.25" stroke-linejoin="round"/>
<line x1="24.7" y1="527" x2="340.5" y2="527" stroke="#111" stroke-width="1.5"/>
<line x1="25.2" y1="527" x2="25.2" y2="529.4" stroke="#111" stroke-width="1.1"/>
<line x1="40.94" y1="527" x2="40.94" y2="529.4" stroke="#111" stroke-width="1.1"/>
<line x1="56.68" y1="527" x2="56.68" y2="529.4" stroke="#111" stroke-width="1.1"/>
<line x1="72.42" y1="527" x2="72.42" y2="529.4" stroke="#111" stroke-width="1.1"/>
<line x1="88.16" y1="527" x2="88.16" y2="529.4" stroke="#111" stroke-width="1.1"/>
<line x1="103.9" y1="527" x2="103.9" y2="529.4" stroke="#111" stroke-width="1.1"/>
<line x1="119.64" y1="527" x2="119.64" y2="529.4" stroke="#111" stroke-width="1.1"/>
<line x1="135.38" y1="527" x2="135.38" y2="529.4" stroke="#111" stroke-width="1.1"/>
<line x1="151.12" y1="527" x2="151.12" y2="529.4" stroke="#111" stroke-width="1.1"/>
<line x1="166.86" y1="527" x2="166.86" y2="529.4" stroke="#111" stroke-width="1.1"/>
<line x1="182.6" y1="527" x2="182.6" y2="529.4" stroke="#111" stroke-width="1.1"/>
<line x1="198.34" y1="527" x2="198.34" y2="529.4" stroke="#111" stroke-width="1.1"/>
<line x1="214.08" y1="527" x2="214.08" y2="529.4" stroke="#111" stroke-width="1.1"/>
<line x1="229.82" y1="527" x2="229.82" y2="529.4" stroke="#111" stroke-width="1.1"/>
<line x1="245.56" y1="527" x2="245.56" y2="529.4" stroke="#111" stroke-width="1.1"/>
<line x1="261.3" y1="527" x2="261.3" y2="529.4" stroke="#111" stroke-width="1.1"/>
<line x1="277.04" y1="527" x2="277.04" y2="529.4" stroke="#111" stroke-width="1.1"/>
<line x1="292.78" y1="527" x2="292.78" y2="529.4" stroke="#111" stroke-width="1.1"/>
<line x1="308.52" y1="527" x2="308.52" y2="529.4" stroke="#111" stroke-width="1.1"/>
<line x1="324.26" y1="527" x2="324.26" y2="529.4" stroke="#111" stroke-width="1.1"/>
<line x1="340" y1="527" x2="340" y2="529.4" stroke="#111" stroke-width="1.1"/>
<line x1="33.07" y1="527" x2="33.07" y2="529.4" stroke="#111" stroke-width="1.0"/>
<line x1="48.81" y1="527" x2="48.81" y2="529.4" stroke="#111" stroke-width="1.0"/>
<line x1="64.55" y1="527" x2="64.55" y2="529.4" stroke="#111" stroke-width="1.0"/>
<line x1="80.29" y1="527" x2="80.29" y2="529.4" stroke="#111" stroke-width="1.0"/>
<line x1="96.03" y1="527" x2="96.03" y2="529.4" stroke="#111" stroke-width="1.0"/>
<line x1="111.77" y1="527" x2="111.77" y2="529.4" stroke="#111" stroke-width="1.0"/>
<line x1="127.51" y1="527" x2="127.51" y2="529.4" stroke="#111" stroke-width="1.0"/>
<line x1="143.25" y1="527" x2="143.25" y2="529.4" stroke="#111" stroke-width="1.0"/>
<line x1="158.99" y1="527" x2="158.99" y2="529.4" stroke="#111" stroke-width="1.0"/>
<line x1="174.73" y1="527" x2="174.73" y2="529.4" stroke="#111" stroke-width="1.0"/>
<line x1="190.47" y1="527" x2="190.47" y2="529.4" stroke="#111" stroke-width="1.0"/>
<line x1="206.21" y1="527" x2="206.21" y2="529.4" stroke="#111" stroke-width="1.0"/>
<line x1="221.95" y1="527" x2="221.95" y2="529.4" stroke="#111" stroke-width="1.0"/>
<line x1="237.69" y1="527" x2="237.69" y2="529.4" stroke="#111" stroke-width="1.0"/>
<line x1="253.43" y1="527" x2="253.43" y2="529.4" stroke="#111" stroke-width="1.0"/>
<line x1="269.17" y1="527" x2="269.17" y2="529.4" stroke="#111" stroke-width="1.0"/>
<line x1="284.91" y1="527" x2="284.91" y2="529.4" stroke="#111" stroke-width="1.0"/>
<line x1="300.65" y1="527" x2="300.65" y2="529.4" stroke="#111" stroke-width="1.0"/>
<line x1="316.39" y1="527" x2="316.39" y2="529.4" stroke="#111" stroke-width="1.0"/>
<line x1="332.13" y1="527" x2="332.13" y2="529.4" stroke="#111" stroke-width="1.0"/>
<text x="25.2" y="535.4" font-size="5.4" font-weight="bold" text-anchor="middle" fill="#111" style="" >200</text>
<text x="40.94" y="535.4" font-size="5.4" font-weight="bold" text-anchor="middle" fill="#111" style="" >180</text>
<text x="56.68" y="535.4" font-size="5.4" font-weight="bold" text-anchor="middle" fill="#111" style="" >160</text>
<text x="72.42" y="535.4" font-size="5.4" font-weight="bold" text-anchor="middle" fill="#111" style="" >140</text>
<text x="88.16" y="535.4" font-size="5.4" font-weight="bold" text-anchor="middle" fill="#111" style="" >120</text>
<text x="103.9" y="535.4" font-size="5.4" font-weight="bold" text-anchor="middle" fill="#111" style="" >100</text>
<text x="119.64" y="535.4" font-size="5.4" font-weight="bold" text-anchor="middle" fill="#111" style="" >80</text>
<text x="135.38" y="535.4" font-size="5.4" font-weight="bold" text-anchor="middle" fill="#111" style="" >60</text>
<text x="151.12" y="535.4" font-size="5.4" font-weight="bold" text-anchor="middle" fill="#111" style="" >40</text>
<text x="166.86" y="535.4" font-size="5.4" font-weight="bold" text-anchor="middle" fill="#111" style="" >20</text>
<text x="182.6" y="535.4" font-size="5.4" font-weight="bold" text-anchor="middle" fill="#111" style="" >0</text>
<text x="199.04" y="535.4" font-size="5.4" font-weight="bold" text-anchor="middle" fill="#111" style="" >-20</text>
<text x="214.78" y="535.4" font-size="5.4" font-weight="bold" text-anchor="middle" fill="#111" style="" >-40</text>
<text x="230.52" y="535.4" font-size="5.4" font-weight="bold" text-anchor="middle" fill="#111" style="" >-60</text>
<text x="246.26" y="535.4" font-size="5.4" font-weight="bold" text-anchor="middle" fill="#111" style="" >-80</text>
<text x="262" y="535.4" font-size="5.4" font-weight="bold" text-anchor="middle" fill="#111" style="" >-100</text>
<text x="277.74" y="535.4" font-size="5.4" font-weight="bold" text-anchor="middle" fill="#111" style="" >-120</text>
<text x="293.48" y="535.4" font-size="5.4" font-weight="bold" text-anchor="middle" fill="#111" style="" >-140</text>
<text x="309.22" y="535.4" font-size="5.4" font-weight="bold" text-anchor="middle" fill="#111" style="" >-160</text>
<text x="324.96" y="535.4" font-size="5.4" font-weight="bold" text-anchor="middle" fill="#111" style="" >-180</text>
<text x="340.7" y="535.4" font-size="5.4" font-weight="bold" text-anchor="middle" fill="#111" style="" >-200</text>
<text x="127.4" y="544.7" font-size="7.4" font-weight="bold" text-anchor="start" fill="#111" stroke="#111" stroke-width="0.12"><tspan font-size="3.7" dy="-2.6">27</tspan><tspan dy="2.6">Al MAS NMR at 19.6 T (ppm)</tspan></text>
<text x="19.6" y="468.9" font-size="7.4" font-weight="normal" fill="#222" stroke="#222" stroke-width="0.12">exp</text>
<text x="19.8" y="495.2" font-size="7.4" font-weight="normal" fill="#222" stroke="#222" stroke-width="0.12">sim</text>
<text x="26" y="507.5" font-size="7.6" font-weight="bold" fill="#a31d24" stroke="#a31d24" stroke-width="0.12">5/2</text>
<text x="42.7" y="507.5" font-size="7.6" font-weight="bold" fill="#1f6aa5" stroke="#1f6aa5" stroke-width="0.12">3/2</text>
<text x="130.2" y="514.8" font-size="7.3" font-weight="bold" fill="#b5ad1e" stroke="#b5ad1e" stroke-width="0.12">Al<tspan font-size="4.2" dy="-3">III</tspan></text>
<text x="154.6" y="514.8" font-size="7.3" font-weight="bold" fill="#d08a98" stroke="#d08a98" stroke-width="0.12">Al<tspan font-size="4.2" dy="-3">IV</tspan></text>
<text x="170.2" y="504.6" font-size="7.3" font-weight="bold" fill="#c0782a" stroke="#c0782a" stroke-width="0.12">Al<tspan font-size="4.2" dy="-3">II</tspan></text>
<text x="195.8" y="432.3" font-size="7.3" font-weight="bold" fill="#17843f" stroke="#17843f" stroke-width="0.12">Al<tspan font-size="4.2" dy="-3">I</tspan></text>
<text x="225.8" y="509" font-size="7.4" font-weight="bold" fill="#17843f" stroke="#17843f" stroke-width="0.12">1/2</text>
</svg></body></html>
